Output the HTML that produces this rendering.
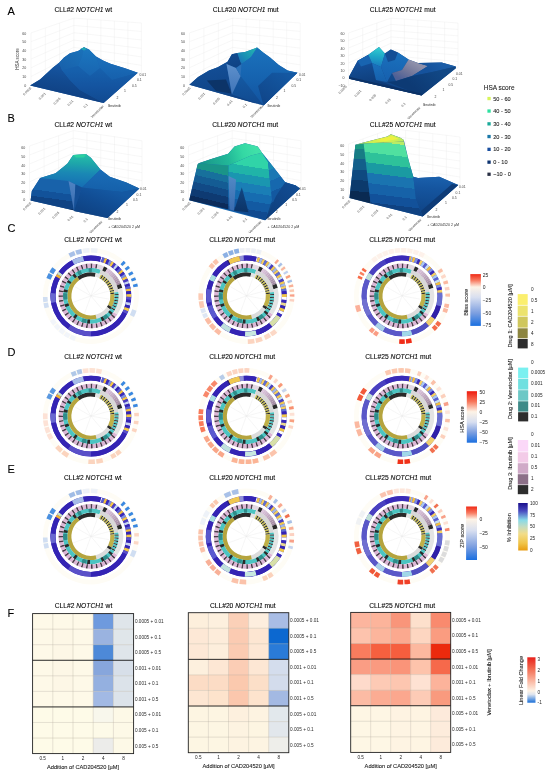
<!DOCTYPE html>
<html><head><meta charset="utf-8"><style>
html,body{margin:0;padding:0;background:#fff;}
svg{display:block;font-family:'Liberation Sans', sans-serif;will-change:transform;}
</style></head><body>
<svg width="550" height="773" viewBox="0 0 550 773">
<rect width="550" height="773" fill="#fff"/>
<text x="7.60" y="15.30" font-size="11" text-anchor="start" fill="#000" stroke="#000" stroke-width="0.09">A</text>
<text x="7.60" y="122.10" font-size="11" text-anchor="start" fill="#000" stroke="#000" stroke-width="0.09">B</text>
<text x="7.60" y="231.70" font-size="11" text-anchor="start" fill="#000" stroke="#000" stroke-width="0.09">C</text>
<text x="7.60" y="355.60" font-size="11" text-anchor="start" fill="#000" stroke="#000" stroke-width="0.09">D</text>
<text x="7.60" y="472.50" font-size="11" text-anchor="start" fill="#000" stroke="#000" stroke-width="0.09">E</text>
<text x="7.60" y="616.80" font-size="11" text-anchor="start" fill="#000" stroke="#000" stroke-width="0.09">F</text>
<text x="83.20" y="12.20" font-size="6.7" text-anchor="middle" fill="#000" stroke="#000" stroke-width="0.09">CLL#2 <tspan font-style="italic">NOTCH1</tspan> wt</text>
<text x="245.70" y="12.20" font-size="6.7" text-anchor="middle" fill="#000" stroke="#000" stroke-width="0.09">CLL#20 <tspan font-style="italic">NOTCH1</tspan> mut</text>
<text x="402.60" y="12.20" font-size="6.7" text-anchor="middle" fill="#000" stroke="#000" stroke-width="0.09">CLL#25 <tspan font-style="italic">NOTCH1</tspan> mut</text>
<text x="83.20" y="127.30" font-size="6.7" text-anchor="middle" fill="#000" stroke="#000" stroke-width="0.09">CLL#2 <tspan font-style="italic">NOTCH1</tspan> wt</text>
<text x="245.20" y="127.30" font-size="6.7" text-anchor="middle" fill="#000" stroke="#000" stroke-width="0.09">CLL#20 <tspan font-style="italic">NOTCH1</tspan> mut</text>
<text x="402.60" y="127.30" font-size="6.7" text-anchor="middle" fill="#000" stroke="#000" stroke-width="0.09">CLL#25 <tspan font-style="italic">NOTCH1</tspan> mut</text>
<text x="93.00" y="242.00" font-size="6.7" text-anchor="middle" fill="#000" stroke="#000" stroke-width="0.09">CLL#2 <tspan font-style="italic">NOTCH1</tspan> wt</text>
<text x="242.20" y="242.00" font-size="6.7" text-anchor="middle" fill="#000" stroke="#000" stroke-width="0.09">CLL#20 <tspan font-style="italic">NOTCH1</tspan> mut</text>
<text x="402.20" y="242.00" font-size="6.7" text-anchor="middle" fill="#000" stroke="#000" stroke-width="0.09">CLL#25 <tspan font-style="italic">NOTCH1</tspan> mut</text>
<text x="93.10" y="359.40" font-size="6.7" text-anchor="middle" fill="#000" stroke="#000" stroke-width="0.09">CLL#2 <tspan font-style="italic">NOTCH1</tspan> wt</text>
<text x="242.20" y="359.40" font-size="6.7" text-anchor="middle" fill="#000" stroke="#000" stroke-width="0.09">CLL#20 <tspan font-style="italic">NOTCH1</tspan> mut</text>
<text x="398.20" y="359.40" font-size="6.7" text-anchor="middle" fill="#000" stroke="#000" stroke-width="0.09">CLL#25 <tspan font-style="italic">NOTCH1</tspan> mut</text>
<text x="92.80" y="479.60" font-size="6.7" text-anchor="middle" fill="#000" stroke="#000" stroke-width="0.09">CLL#2 <tspan font-style="italic">NOTCH1</tspan> wt</text>
<text x="242.20" y="479.60" font-size="6.7" text-anchor="middle" fill="#000" stroke="#000" stroke-width="0.09">CLL#20 <tspan font-style="italic">NOTCH1</tspan> mut</text>
<text x="398.20" y="479.60" font-size="6.7" text-anchor="middle" fill="#000" stroke="#000" stroke-width="0.09">CLL#25 <tspan font-style="italic">NOTCH1</tspan> mut</text>
<text x="83.50" y="607.70" font-size="6.7" text-anchor="middle" fill="#000" stroke="#000" stroke-width="0.09">CLL#2 <tspan font-style="italic">NOTCH1</tspan> wt</text>
<text x="242.80" y="607.70" font-size="6.7" text-anchor="middle" fill="#000" stroke="#000" stroke-width="0.09">CLL#20 <tspan font-style="italic">NOTCH1</tspan> mut</text>
<text x="402.20" y="607.70" font-size="6.7" text-anchor="middle" fill="#000" stroke="#000" stroke-width="0.09">CLL#25 <tspan font-style="italic">NOTCH1</tspan> mut</text>
<rect x="32.60" y="613.60" width="20.25" height="15.61" fill="#fef9e8"/>
<rect x="52.80" y="613.60" width="20.25" height="15.61" fill="#fef9e8"/>
<rect x="73.00" y="613.60" width="20.25" height="15.61" fill="#fef9e8"/>
<rect x="93.20" y="613.60" width="20.25" height="15.61" fill="#6e9ade"/>
<rect x="113.40" y="613.60" width="20.25" height="15.61" fill="#dfe5ea"/>
<rect x="32.60" y="629.16" width="20.25" height="15.61" fill="#fef9e8"/>
<rect x="52.80" y="629.16" width="20.25" height="15.61" fill="#fdf7e6"/>
<rect x="73.00" y="629.16" width="20.25" height="15.61" fill="#fef9e8"/>
<rect x="93.20" y="629.16" width="20.25" height="15.61" fill="#9ab3e0"/>
<rect x="113.40" y="629.16" width="20.25" height="15.61" fill="#e0e6ea"/>
<rect x="32.60" y="644.71" width="20.25" height="15.61" fill="#fef9e8"/>
<rect x="52.80" y="644.71" width="20.25" height="15.61" fill="#fdf7e6"/>
<rect x="73.00" y="644.71" width="20.25" height="15.61" fill="#fef9e8"/>
<rect x="93.20" y="644.71" width="20.25" height="15.61" fill="#4d89d8"/>
<rect x="113.40" y="644.71" width="20.25" height="15.61" fill="#dfe5ea"/>
<rect x="32.60" y="660.27" width="20.25" height="15.61" fill="#fef9e8"/>
<rect x="52.80" y="660.27" width="20.25" height="15.61" fill="#fdf7e6"/>
<rect x="73.00" y="660.27" width="20.25" height="15.61" fill="#fef9e8"/>
<rect x="93.20" y="660.27" width="20.25" height="15.61" fill="#87a6dc"/>
<rect x="113.40" y="660.27" width="20.25" height="15.61" fill="#d7dfe9"/>
<rect x="32.60" y="675.82" width="20.25" height="15.61" fill="#fef9e8"/>
<rect x="52.80" y="675.82" width="20.25" height="15.61" fill="#fdf7e6"/>
<rect x="73.00" y="675.82" width="20.25" height="15.61" fill="#fef9e8"/>
<rect x="93.20" y="675.82" width="20.25" height="15.61" fill="#94b0e0"/>
<rect x="113.40" y="675.82" width="20.25" height="15.61" fill="#dce3ea"/>
<rect x="32.60" y="691.38" width="20.25" height="15.61" fill="#fef9e8"/>
<rect x="52.80" y="691.38" width="20.25" height="15.61" fill="#fef9e8"/>
<rect x="73.00" y="691.38" width="20.25" height="15.61" fill="#fef9e8"/>
<rect x="93.20" y="691.38" width="20.25" height="15.61" fill="#a2b9e4"/>
<rect x="113.40" y="691.38" width="20.25" height="15.61" fill="#dce3ea"/>
<rect x="32.60" y="706.93" width="20.25" height="15.61" fill="#fefbe8"/>
<rect x="52.80" y="706.93" width="20.25" height="15.61" fill="#fefbe8"/>
<rect x="73.00" y="706.93" width="20.25" height="15.61" fill="#fefbe8"/>
<rect x="93.20" y="706.93" width="20.25" height="15.61" fill="#f8f7ec"/>
<rect x="113.40" y="706.93" width="20.25" height="15.61" fill="#fdf9e7"/>
<rect x="32.60" y="722.49" width="20.25" height="15.61" fill="#fefbe8"/>
<rect x="52.80" y="722.49" width="20.25" height="15.61" fill="#fefbe8"/>
<rect x="73.00" y="722.49" width="20.25" height="15.61" fill="#fefbe8"/>
<rect x="93.20" y="722.49" width="20.25" height="15.61" fill="#fdfae8"/>
<rect x="113.40" y="722.49" width="20.25" height="15.61" fill="#fdf9e7"/>
<rect x="32.60" y="738.04" width="20.25" height="15.61" fill="#fefbe8"/>
<rect x="52.80" y="738.04" width="20.25" height="15.61" fill="#fefbe8"/>
<rect x="73.00" y="738.04" width="20.25" height="15.61" fill="#fefbe8"/>
<rect x="93.20" y="738.04" width="20.25" height="15.61" fill="#ececea"/>
<rect x="113.40" y="738.04" width="20.25" height="15.61" fill="#fdf9e7"/>
<line x1="52.80" y1="613.60" x2="52.80" y2="753.60" stroke="#b8ae9c" stroke-width="0.35"/>
<line x1="73.00" y1="613.60" x2="73.00" y2="753.60" stroke="#b8ae9c" stroke-width="0.35"/>
<line x1="93.20" y1="613.60" x2="93.20" y2="753.60" stroke="#b8ae9c" stroke-width="0.35"/>
<line x1="113.40" y1="613.60" x2="113.40" y2="753.60" stroke="#b8ae9c" stroke-width="0.35"/>
<line x1="32.60" y1="629.16" x2="133.60" y2="629.16" stroke="#b8ae9c" stroke-width="0.35"/>
<line x1="32.60" y1="644.71" x2="133.60" y2="644.71" stroke="#b8ae9c" stroke-width="0.35"/>
<line x1="32.60" y1="675.82" x2="133.60" y2="675.82" stroke="#b8ae9c" stroke-width="0.35"/>
<line x1="32.60" y1="691.38" x2="133.60" y2="691.38" stroke="#b8ae9c" stroke-width="0.35"/>
<line x1="32.60" y1="722.49" x2="133.60" y2="722.49" stroke="#b8ae9c" stroke-width="0.35"/>
<line x1="32.60" y1="738.04" x2="133.60" y2="738.04" stroke="#b8ae9c" stroke-width="0.35"/>
<line x1="32.60" y1="660.27" x2="133.60" y2="660.27" stroke="#111" stroke-width="0.9"/>
<line x1="32.60" y1="706.93" x2="133.60" y2="706.93" stroke="#111" stroke-width="0.9"/>
<rect x="32.60" y="613.60" width="101.00" height="140.00" fill="none" stroke="#222" stroke-width="0.9"/>
<text x="134.90" y="623.08" font-size="4.7" text-anchor="start" fill="#2a2a2a">0.0005 + 0.01</text>
<text x="134.90" y="638.63" font-size="4.7" text-anchor="start" fill="#2a2a2a">0.0005 + 0.1</text>
<text x="134.90" y="654.19" font-size="4.7" text-anchor="start" fill="#2a2a2a">0.0005 + 0.5</text>
<text x="134.90" y="669.74" font-size="4.7" text-anchor="start" fill="#2a2a2a">0.001 + 0.01</text>
<text x="134.90" y="685.30" font-size="4.7" text-anchor="start" fill="#2a2a2a">0.001 + 0.1</text>
<text x="134.90" y="700.86" font-size="4.7" text-anchor="start" fill="#2a2a2a">0.001 + 0.5</text>
<text x="134.90" y="716.41" font-size="4.7" text-anchor="start" fill="#2a2a2a">0.005 + 0.01</text>
<text x="134.90" y="731.97" font-size="4.7" text-anchor="start" fill="#2a2a2a">0.005 + 0.1</text>
<text x="134.90" y="747.52" font-size="4.7" text-anchor="start" fill="#2a2a2a">0.005 + 0.5</text>
<text x="42.70" y="759.80" font-size="4.65" text-anchor="middle" fill="#222">0.5</text>
<text x="62.90" y="759.80" font-size="4.65" text-anchor="middle" fill="#222">1</text>
<text x="83.10" y="759.80" font-size="4.65" text-anchor="middle" fill="#222">2</text>
<text x="103.30" y="759.80" font-size="4.65" text-anchor="middle" fill="#222">4</text>
<text x="123.50" y="759.80" font-size="4.65" text-anchor="middle" fill="#222">8</text>
<text x="83.10" y="768.80" font-size="5.7" text-anchor="middle" fill="#222" stroke="#222" stroke-width="0.09">Addition of CAD204520 [µM]</text>
<rect x="188.30" y="612.70" width="20.15" height="15.61" fill="#fdefdc"/>
<rect x="208.40" y="612.70" width="20.15" height="15.61" fill="#fdf0de"/>
<rect x="228.50" y="612.70" width="20.15" height="15.61" fill="#fbd0b8"/>
<rect x="248.60" y="612.70" width="20.15" height="15.61" fill="#fdeede"/>
<rect x="268.70" y="612.70" width="20.15" height="15.61" fill="#a9bde5"/>
<rect x="188.30" y="628.26" width="20.15" height="15.61" fill="#fde8d6"/>
<rect x="208.40" y="628.26" width="20.15" height="15.61" fill="#fdecda"/>
<rect x="228.50" y="628.26" width="20.15" height="15.61" fill="#fbcbb2"/>
<rect x="248.60" y="628.26" width="20.15" height="15.61" fill="#fde6d2"/>
<rect x="268.70" y="628.26" width="20.15" height="15.61" fill="#0c68d0"/>
<rect x="188.30" y="643.81" width="20.15" height="15.61" fill="#fde8d6"/>
<rect x="208.40" y="643.81" width="20.15" height="15.61" fill="#fdeedc"/>
<rect x="228.50" y="643.81" width="20.15" height="15.61" fill="#fbcbb2"/>
<rect x="248.60" y="643.81" width="20.15" height="15.61" fill="#fde7d4"/>
<rect x="268.70" y="643.81" width="20.15" height="15.61" fill="#2a7bd8"/>
<rect x="188.30" y="659.37" width="20.15" height="15.61" fill="#fdf0de"/>
<rect x="208.40" y="659.37" width="20.15" height="15.61" fill="#fde7d4"/>
<rect x="228.50" y="659.37" width="20.15" height="15.61" fill="#fbcdb5"/>
<rect x="248.60" y="659.37" width="20.15" height="15.61" fill="#fde7d4"/>
<rect x="268.70" y="659.37" width="20.15" height="15.61" fill="#d4dded"/>
<rect x="188.30" y="674.92" width="20.15" height="15.61" fill="#fcdcc5"/>
<rect x="208.40" y="674.92" width="20.15" height="15.61" fill="#fcdcc5"/>
<rect x="228.50" y="674.92" width="20.15" height="15.61" fill="#fbc9ae"/>
<rect x="248.60" y="674.92" width="20.15" height="15.61" fill="#fcdfc8"/>
<rect x="268.70" y="674.92" width="20.15" height="15.61" fill="#d3dcec"/>
<rect x="188.30" y="690.48" width="20.15" height="15.61" fill="#fde6d2"/>
<rect x="208.40" y="690.48" width="20.15" height="15.61" fill="#fde3cc"/>
<rect x="228.50" y="690.48" width="20.15" height="15.61" fill="#fbc7ad"/>
<rect x="248.60" y="690.48" width="20.15" height="15.61" fill="#fde3cd"/>
<rect x="268.70" y="690.48" width="20.15" height="15.61" fill="#a3b9e3"/>
<rect x="188.30" y="706.03" width="20.15" height="15.61" fill="#fdf5e2"/>
<rect x="208.40" y="706.03" width="20.15" height="15.61" fill="#fdf5e2"/>
<rect x="228.50" y="706.03" width="20.15" height="15.61" fill="#fdf0de"/>
<rect x="248.60" y="706.03" width="20.15" height="15.61" fill="#fdf3e1"/>
<rect x="268.70" y="706.03" width="20.15" height="15.61" fill="#e2e8ec"/>
<rect x="188.30" y="721.59" width="20.15" height="15.61" fill="#fdf6e3"/>
<rect x="208.40" y="721.59" width="20.15" height="15.61" fill="#fdf6e3"/>
<rect x="228.50" y="721.59" width="20.15" height="15.61" fill="#fdf3e1"/>
<rect x="248.60" y="721.59" width="20.15" height="15.61" fill="#fdf5e2"/>
<rect x="268.70" y="721.59" width="20.15" height="15.61" fill="#e2e7ec"/>
<rect x="188.30" y="737.14" width="20.15" height="15.61" fill="#fdf6e3"/>
<rect x="208.40" y="737.14" width="20.15" height="15.61" fill="#fdf6e3"/>
<rect x="228.50" y="737.14" width="20.15" height="15.61" fill="#fdf3e1"/>
<rect x="248.60" y="737.14" width="20.15" height="15.61" fill="#fdf4e2"/>
<rect x="268.70" y="737.14" width="20.15" height="15.61" fill="#eeeeea"/>
<line x1="208.40" y1="612.70" x2="208.40" y2="752.70" stroke="#b8ae9c" stroke-width="0.35"/>
<line x1="228.50" y1="612.70" x2="228.50" y2="752.70" stroke="#b8ae9c" stroke-width="0.35"/>
<line x1="248.60" y1="612.70" x2="248.60" y2="752.70" stroke="#b8ae9c" stroke-width="0.35"/>
<line x1="268.70" y1="612.70" x2="268.70" y2="752.70" stroke="#b8ae9c" stroke-width="0.35"/>
<line x1="188.30" y1="628.26" x2="288.80" y2="628.26" stroke="#b8ae9c" stroke-width="0.35"/>
<line x1="188.30" y1="643.81" x2="288.80" y2="643.81" stroke="#b8ae9c" stroke-width="0.35"/>
<line x1="188.30" y1="674.92" x2="288.80" y2="674.92" stroke="#b8ae9c" stroke-width="0.35"/>
<line x1="188.30" y1="690.48" x2="288.80" y2="690.48" stroke="#b8ae9c" stroke-width="0.35"/>
<line x1="188.30" y1="721.59" x2="288.80" y2="721.59" stroke="#b8ae9c" stroke-width="0.35"/>
<line x1="188.30" y1="737.14" x2="288.80" y2="737.14" stroke="#b8ae9c" stroke-width="0.35"/>
<line x1="188.30" y1="659.37" x2="288.80" y2="659.37" stroke="#111" stroke-width="0.9"/>
<line x1="188.30" y1="706.03" x2="288.80" y2="706.03" stroke="#111" stroke-width="0.9"/>
<rect x="188.30" y="612.70" width="100.50" height="140.00" fill="none" stroke="#222" stroke-width="0.9"/>
<text x="290.10" y="622.18" font-size="4.7" text-anchor="start" fill="#2a2a2a">0.0005 + 0.01</text>
<text x="290.10" y="637.73" font-size="4.7" text-anchor="start" fill="#2a2a2a">0.0005 + 0.1</text>
<text x="290.10" y="653.29" font-size="4.7" text-anchor="start" fill="#2a2a2a">0.0005 + 0.5</text>
<text x="290.10" y="668.84" font-size="4.7" text-anchor="start" fill="#2a2a2a">0.001 + 0.01</text>
<text x="290.10" y="684.40" font-size="4.7" text-anchor="start" fill="#2a2a2a">0.001 + 0.1</text>
<text x="290.10" y="699.96" font-size="4.7" text-anchor="start" fill="#2a2a2a">0.001 + 0.5</text>
<text x="290.10" y="715.51" font-size="4.7" text-anchor="start" fill="#2a2a2a">0.005 + 0.01</text>
<text x="290.10" y="731.07" font-size="4.7" text-anchor="start" fill="#2a2a2a">0.005 + 0.1</text>
<text x="290.10" y="746.62" font-size="4.7" text-anchor="start" fill="#2a2a2a">0.005 + 0.5</text>
<text x="198.35" y="758.90" font-size="4.65" text-anchor="middle" fill="#222">0.5</text>
<text x="218.45" y="758.90" font-size="4.65" text-anchor="middle" fill="#222">1</text>
<text x="238.55" y="758.90" font-size="4.65" text-anchor="middle" fill="#222">2</text>
<text x="258.65" y="758.90" font-size="4.65" text-anchor="middle" fill="#222">4</text>
<text x="278.75" y="758.90" font-size="4.65" text-anchor="middle" fill="#222">8</text>
<text x="238.55" y="767.90" font-size="5.7" text-anchor="middle" fill="#222" stroke="#222" stroke-width="0.09">Addition of CAD204520 [µM]</text>
<rect x="350.70" y="612.40" width="20.05" height="15.61" fill="#fcb59e"/>
<rect x="370.70" y="612.40" width="20.05" height="15.61" fill="#fcb49b"/>
<rect x="390.70" y="612.40" width="20.05" height="15.61" fill="#f9957a"/>
<rect x="410.70" y="612.40" width="20.05" height="15.61" fill="#fde0cc"/>
<rect x="430.70" y="612.40" width="20.05" height="15.61" fill="#f98a6e"/>
<rect x="350.70" y="627.96" width="20.05" height="15.61" fill="#fdc3ad"/>
<rect x="370.70" y="627.96" width="20.05" height="15.61" fill="#fcb59c"/>
<rect x="390.70" y="627.96" width="20.05" height="15.61" fill="#fba98f"/>
<rect x="410.70" y="627.96" width="20.05" height="15.61" fill="#fdd6c1"/>
<rect x="430.70" y="627.96" width="20.05" height="15.61" fill="#fa9c80"/>
<rect x="350.70" y="643.51" width="20.05" height="15.61" fill="#f97c5e"/>
<rect x="370.70" y="643.51" width="20.05" height="15.61" fill="#f6603f"/>
<rect x="390.70" y="643.51" width="20.05" height="15.61" fill="#f65e3e"/>
<rect x="410.70" y="643.51" width="20.05" height="15.61" fill="#fcb89f"/>
<rect x="430.70" y="643.51" width="20.05" height="15.61" fill="#ec2a0d"/>
<rect x="350.70" y="659.07" width="20.05" height="15.61" fill="#fa9d84"/>
<rect x="370.70" y="659.07" width="20.05" height="15.61" fill="#fa9a80"/>
<rect x="390.70" y="659.07" width="20.05" height="15.61" fill="#fa9479"/>
<rect x="410.70" y="659.07" width="20.05" height="15.61" fill="#fdc3ab"/>
<rect x="430.70" y="659.07" width="20.05" height="15.61" fill="#f6694b"/>
<rect x="350.70" y="674.62" width="20.05" height="15.61" fill="#fedacb"/>
<rect x="370.70" y="674.62" width="20.05" height="15.61" fill="#fdcab5"/>
<rect x="390.70" y="674.62" width="20.05" height="15.61" fill="#fdc6b0"/>
<rect x="410.70" y="674.62" width="20.05" height="15.61" fill="#fee2d3"/>
<rect x="430.70" y="674.62" width="20.05" height="15.61" fill="#fcb39b"/>
<rect x="350.70" y="690.18" width="20.05" height="15.61" fill="#fcbba4"/>
<rect x="370.70" y="690.18" width="20.05" height="15.61" fill="#fbac93"/>
<rect x="390.70" y="690.18" width="20.05" height="15.61" fill="#fba78e"/>
<rect x="410.70" y="690.18" width="20.05" height="15.61" fill="#fdcbb6"/>
<rect x="430.70" y="690.18" width="20.05" height="15.61" fill="#f99a7e"/>
<rect x="350.70" y="705.73" width="20.05" height="15.61" fill="#fef6e4"/>
<rect x="370.70" y="705.73" width="20.05" height="15.61" fill="#fef6e4"/>
<rect x="390.70" y="705.73" width="20.05" height="15.61" fill="#fef3e2"/>
<rect x="410.70" y="705.73" width="20.05" height="15.61" fill="#fef4e2"/>
<rect x="430.70" y="705.73" width="20.05" height="15.61" fill="#fdeadb"/>
<rect x="350.70" y="721.29" width="20.05" height="15.61" fill="#fef7e5"/>
<rect x="370.70" y="721.29" width="20.05" height="15.61" fill="#fef7e5"/>
<rect x="390.70" y="721.29" width="20.05" height="15.61" fill="#fef4e3"/>
<rect x="410.70" y="721.29" width="20.05" height="15.61" fill="#fef5e3"/>
<rect x="430.70" y="721.29" width="20.05" height="15.61" fill="#fdecdc"/>
<rect x="350.70" y="736.84" width="20.05" height="15.61" fill="#fef7e5"/>
<rect x="370.70" y="736.84" width="20.05" height="15.61" fill="#fef7e5"/>
<rect x="390.70" y="736.84" width="20.05" height="15.61" fill="#fef4e3"/>
<rect x="410.70" y="736.84" width="20.05" height="15.61" fill="#fef5e3"/>
<rect x="430.70" y="736.84" width="20.05" height="15.61" fill="#fdebdb"/>
<line x1="370.70" y1="612.40" x2="370.70" y2="752.40" stroke="#b8ae9c" stroke-width="0.35"/>
<line x1="390.70" y1="612.40" x2="390.70" y2="752.40" stroke="#b8ae9c" stroke-width="0.35"/>
<line x1="410.70" y1="612.40" x2="410.70" y2="752.40" stroke="#b8ae9c" stroke-width="0.35"/>
<line x1="430.70" y1="612.40" x2="430.70" y2="752.40" stroke="#b8ae9c" stroke-width="0.35"/>
<line x1="350.70" y1="627.96" x2="450.70" y2="627.96" stroke="#b8ae9c" stroke-width="0.35"/>
<line x1="350.70" y1="643.51" x2="450.70" y2="643.51" stroke="#b8ae9c" stroke-width="0.35"/>
<line x1="350.70" y1="674.62" x2="450.70" y2="674.62" stroke="#b8ae9c" stroke-width="0.35"/>
<line x1="350.70" y1="690.18" x2="450.70" y2="690.18" stroke="#b8ae9c" stroke-width="0.35"/>
<line x1="350.70" y1="721.29" x2="450.70" y2="721.29" stroke="#b8ae9c" stroke-width="0.35"/>
<line x1="350.70" y1="736.84" x2="450.70" y2="736.84" stroke="#b8ae9c" stroke-width="0.35"/>
<line x1="350.70" y1="659.07" x2="450.70" y2="659.07" stroke="#111" stroke-width="0.9"/>
<line x1="350.70" y1="705.73" x2="450.70" y2="705.73" stroke="#111" stroke-width="0.9"/>
<rect x="350.70" y="612.40" width="100.00" height="140.00" fill="none" stroke="#222" stroke-width="0.9"/>
<text x="452.00" y="621.88" font-size="4.7" text-anchor="start" fill="#2a2a2a">0.0005 + 0.01</text>
<text x="452.00" y="637.43" font-size="4.7" text-anchor="start" fill="#2a2a2a">0.0005 + 0.1</text>
<text x="452.00" y="652.99" font-size="4.7" text-anchor="start" fill="#2a2a2a">0.0005 + 0.5</text>
<text x="452.00" y="668.54" font-size="4.7" text-anchor="start" fill="#2a2a2a">0.001 + 0.01</text>
<text x="452.00" y="684.10" font-size="4.7" text-anchor="start" fill="#2a2a2a">0.001 + 0.1</text>
<text x="452.00" y="699.66" font-size="4.7" text-anchor="start" fill="#2a2a2a">0.001 + 0.5</text>
<text x="452.00" y="715.21" font-size="4.7" text-anchor="start" fill="#2a2a2a">0.005 + 0.01</text>
<text x="452.00" y="730.77" font-size="4.7" text-anchor="start" fill="#2a2a2a">0.005 + 0.1</text>
<text x="452.00" y="746.32" font-size="4.7" text-anchor="start" fill="#2a2a2a">0.005 + 0.5</text>
<text x="360.70" y="758.60" font-size="4.65" text-anchor="middle" fill="#222">0.5</text>
<text x="380.70" y="758.60" font-size="4.65" text-anchor="middle" fill="#222">1</text>
<text x="400.70" y="758.60" font-size="4.65" text-anchor="middle" fill="#222">2</text>
<text x="420.70" y="758.60" font-size="4.65" text-anchor="middle" fill="#222">4</text>
<text x="440.70" y="758.60" font-size="4.65" text-anchor="middle" fill="#222">8</text>
<text x="400.70" y="767.60" font-size="5.7" text-anchor="middle" fill="#222" stroke="#222" stroke-width="0.09">Addition of CAD204520 [µM]</text>
<text x="491.30" y="682.50" font-size="5.6" text-anchor="middle" fill="#222" stroke="#222" stroke-width="0.09" transform="rotate(-90 491.3 682.5)">Venetoclax + Ibrutinib [µM]</text>
<defs>
<linearGradient id="lfc" x1="0" y1="0" x2="0" y2="1">
<stop offset="0" stop-color="#e8201a"/><stop offset="0.25" stop-color="#f26a50"/>
<stop offset="0.5" stop-color="#fab09a"/><stop offset="0.74" stop-color="#fdf3e6"/>
<stop offset="0.82" stop-color="#dce3ee"/><stop offset="1" stop-color="#1a6fd8"/>
</linearGradient>
<linearGradient id="bliss" x1="0" y1="0" x2="0" y2="1">
<stop offset="0" stop-color="#f02a16"/><stop offset="0.12" stop-color="#f87a60"/>
<stop offset="0.25" stop-color="#fdf3e6"/><stop offset="0.45" stop-color="#d8dff0"/>
<stop offset="0.75" stop-color="#7d9fe0"/><stop offset="1" stop-color="#1a6fe0"/>
</linearGradient>
<linearGradient id="hsa" x1="0" y1="0" x2="0" y2="1">
<stop offset="0" stop-color="#ee1a0e"/><stop offset="0.2" stop-color="#f7765a"/>
<stop offset="0.4" stop-color="#fdf3e6"/><stop offset="0.6" stop-color="#d8dff0"/>
<stop offset="0.8" stop-color="#7d9fe0"/><stop offset="1" stop-color="#1a6fe0"/>
</linearGradient>
<linearGradient id="zip" x1="0" y1="0" x2="0" y2="1">
<stop offset="0" stop-color="#f02a16"/><stop offset="0.12" stop-color="#f87a60"/>
<stop offset="0.24" stop-color="#fdf3e6"/><stop offset="0.45" stop-color="#d8dff0"/>
<stop offset="0.75" stop-color="#7d9fe0"/><stop offset="1" stop-color="#1a6fe0"/>
</linearGradient>
<linearGradient id="inh" x1="0" y1="0" x2="0" y2="1">
<stop offset="0" stop-color="#1a0f8c"/><stop offset="0.17" stop-color="#4a4cc0"/>
<stop offset="0.36" stop-color="#88dae8"/><stop offset="0.5" stop-color="#c4dcc0"/>
<stop offset="0.65" stop-color="#f2dc88"/><stop offset="0.85" stop-color="#f0c448"/>
<stop offset="1" stop-color="#e89c10"/>
</linearGradient>
</defs>
<rect x="527.30" y="657.30" width="8.20" height="45.40" fill="url(#lfc)"/>
<text x="537.60" y="661.20" font-size="4.65" text-anchor="start" fill="#222">3</text>
<text x="537.60" y="672.10" font-size="4.65" text-anchor="start" fill="#222">2</text>
<text x="537.60" y="682.90" font-size="4.65" text-anchor="start" fill="#222">1</text>
<text x="537.60" y="693.60" font-size="4.65" text-anchor="start" fill="#222">0</text>
<text x="537.60" y="704.10" font-size="4.65" text-anchor="start" fill="#222">-1</text>
<text x="523.20" y="680.50" font-size="5.6" text-anchor="middle" fill="#222" stroke="#222" stroke-width="0.09" transform="rotate(-90 523.2 680.5)">Linear Fold Change</text>
<rect x="470.30" y="274.10" width="10.60" height="51.80" fill="url(#bliss)"/>
<text x="482.70" y="276.70" font-size="5.0" text-anchor="start" fill="#222">25</text>
<text x="482.70" y="289.40" font-size="5.0" text-anchor="start" fill="#222">0</text>
<text x="482.70" y="302.20" font-size="5.0" text-anchor="start" fill="#222">−25</text>
<text x="482.70" y="315.30" font-size="5.0" text-anchor="start" fill="#222">−50</text>
<text x="482.70" y="327.40" font-size="5.0" text-anchor="start" fill="#222">−75</text>
<text x="468.00" y="302.30" font-size="5.6" text-anchor="middle" fill="#222" stroke="#222" stroke-width="0.09" transform="rotate(-90 468.0 302.3)">Bliss score</text>
<rect x="466.80" y="391.20" width="10.20" height="51.50" fill="url(#hsa)"/>
<text x="479.40" y="393.50" font-size="5.0" text-anchor="start" fill="#222">50</text>
<text x="479.40" y="404.00" font-size="5.0" text-anchor="start" fill="#222">25</text>
<text x="479.40" y="414.00" font-size="5.0" text-anchor="start" fill="#222">0</text>
<text x="479.40" y="424.00" font-size="5.0" text-anchor="start" fill="#222">−25</text>
<text x="479.40" y="434.40" font-size="5.0" text-anchor="start" fill="#222">−50</text>
<text x="479.40" y="444.20" font-size="5.0" text-anchor="start" fill="#222">−75</text>
<text x="464.40" y="419.50" font-size="5.6" text-anchor="middle" fill="#222" stroke="#222" stroke-width="0.09" transform="rotate(-90 464.4 419.5)">HSA score</text>
<rect x="466.10" y="506.50" width="10.90" height="53.50" fill="url(#zip)"/>
<text x="479.40" y="521.20" font-size="5.0" text-anchor="start" fill="#222">0</text>
<text x="479.40" y="535.30" font-size="5.0" text-anchor="start" fill="#222">−25</text>
<text x="479.40" y="548.80" font-size="5.0" text-anchor="start" fill="#222">−50</text>
<text x="463.70" y="535.70" font-size="5.6" text-anchor="middle" fill="#222" stroke="#222" stroke-width="0.09" transform="rotate(-90 463.7 535.7)">ZIP score</text>
<rect x="517.70" y="294.10" width="10.00" height="10.80" fill="#fbef6e"/>
<rect x="517.70" y="305.60" width="10.00" height="10.30" fill="#ece36e"/>
<rect x="517.70" y="316.60" width="10.00" height="11.00" fill="#cfc75d"/>
<rect x="517.70" y="328.30" width="10.00" height="10.00" fill="#8c8540"/>
<rect x="517.70" y="339.00" width="10.00" height="9.40" fill="#2d2d2d"/>
<text x="530.90" y="290.70" font-size="4.65" text-anchor="start" fill="#222">0</text>
<text x="530.90" y="301.60" font-size="4.65" text-anchor="start" fill="#222">0.5</text>
<text x="530.90" y="312.60" font-size="4.65" text-anchor="start" fill="#222">1</text>
<text x="530.90" y="324.10" font-size="4.65" text-anchor="start" fill="#222">2</text>
<text x="530.90" y="335.10" font-size="4.65" text-anchor="start" fill="#222">4</text>
<text x="530.90" y="346.10" font-size="4.65" text-anchor="start" fill="#222">8</text>
<text x="511.80" y="316.00" font-size="5.6" text-anchor="middle" fill="#222" stroke="#222" stroke-width="0.09" transform="rotate(-90 511.8 316.0)">Drug 1: CAD204520 [µM]</text>
<rect x="518.10" y="367.60" width="10.10" height="10.60" fill="#7af0f0"/>
<rect x="518.10" y="378.80" width="10.10" height="10.80" fill="#70e0e0"/>
<rect x="518.10" y="390.20" width="10.10" height="10.50" fill="#6cc8c6"/>
<rect x="518.10" y="401.30" width="10.10" height="10.30" fill="#3d8a88"/>
<rect x="518.10" y="412.20" width="10.10" height="9.20" fill="#2d2d2d"/>
<text x="531.00" y="363.50" font-size="4.65" text-anchor="start" fill="#222">0</text>
<text x="531.00" y="374.40" font-size="4.65" text-anchor="start" fill="#222">0.0005</text>
<text x="531.00" y="385.20" font-size="4.65" text-anchor="start" fill="#222">0.001</text>
<text x="531.00" y="396.50" font-size="4.65" text-anchor="start" fill="#222">0.005</text>
<text x="531.00" y="407.00" font-size="4.65" text-anchor="start" fill="#222">0.01</text>
<text x="531.00" y="418.00" font-size="4.65" text-anchor="start" fill="#222">0.1</text>
<text x="512.00" y="389.00" font-size="5.6" text-anchor="middle" fill="#222" stroke="#222" stroke-width="0.09" transform="rotate(-90 512.0 389.0)">Drug 2: Venetoclax [µM]</text>
<rect x="517.80" y="440.00" width="10.40" height="11.60" fill="#fbd8f8"/>
<rect x="517.80" y="452.20" width="10.40" height="10.40" fill="#f3cbe8"/>
<rect x="517.80" y="463.20" width="10.40" height="10.40" fill="#d0aac8"/>
<rect x="517.80" y="474.20" width="10.40" height="10.30" fill="#8c7088"/>
<rect x="517.80" y="485.10" width="10.40" height="9.10" fill="#2d2d2d"/>
<text x="531.00" y="436.40" font-size="4.65" text-anchor="start" fill="#222">0</text>
<text x="531.00" y="447.30" font-size="4.65" text-anchor="start" fill="#222">0.01</text>
<text x="531.00" y="458.20" font-size="4.65" text-anchor="start" fill="#222">0.1</text>
<text x="531.00" y="469.30" font-size="4.65" text-anchor="start" fill="#222">0.5</text>
<text x="531.00" y="479.90" font-size="4.65" text-anchor="start" fill="#222">1</text>
<text x="531.00" y="491.10" font-size="4.65" text-anchor="start" fill="#222">2</text>
<text x="512.00" y="463.50" font-size="5.6" text-anchor="middle" fill="#222" stroke="#222" stroke-width="0.09" transform="rotate(-90 512.0 463.5)">Drug 3: Ibrutinib [µM]</text>
<rect x="518.20" y="503.00" width="9.50" height="47.50" fill="url(#inh)"/>
<text x="530.00" y="505.20" font-size="4.65" text-anchor="start" fill="#222">100</text>
<text x="530.00" y="516.60" font-size="4.65" text-anchor="start" fill="#222">75</text>
<text x="530.00" y="528.40" font-size="4.65" text-anchor="start" fill="#222">50</text>
<text x="530.00" y="540.10" font-size="4.65" text-anchor="start" fill="#222">25</text>
<text x="530.00" y="551.60" font-size="4.65" text-anchor="start" fill="#222">0</text>
<text x="511.20" y="527.70" font-size="5.6" text-anchor="middle" fill="#222" stroke="#222" stroke-width="0.09" transform="rotate(-90 511.2 527.7)">% Inhibition</text>
<text x="483.80" y="90.40" font-size="6.5" text-anchor="start" fill="#222" stroke="#222" stroke-width="0.09">HSA score</text>
<rect x="487.40" y="96.90" width="3.30" height="3.30" fill="#d8f55a"/>
<text x="493.20" y="100.50" font-size="5.6" text-anchor="start" fill="#222" stroke="#222" stroke-width="0.09">50 - 60</text>
<rect x="487.40" y="109.40" width="3.30" height="3.30" fill="#2de0a0"/>
<text x="493.20" y="113.00" font-size="5.6" text-anchor="start" fill="#222" stroke="#222" stroke-width="0.09">40 - 50</text>
<rect x="487.40" y="122.20" width="3.30" height="3.30" fill="#1aaa9a"/>
<text x="493.20" y="125.80" font-size="5.6" text-anchor="start" fill="#222" stroke="#222" stroke-width="0.09">30 - 40</text>
<rect x="487.40" y="134.90" width="3.30" height="3.30" fill="#1a78a8"/>
<text x="493.20" y="138.50" font-size="5.6" text-anchor="start" fill="#222" stroke="#222" stroke-width="0.09">20 - 30</text>
<rect x="487.40" y="147.70" width="3.30" height="3.30" fill="#1a4fa0"/>
<text x="493.20" y="151.30" font-size="5.6" text-anchor="start" fill="#222" stroke="#222" stroke-width="0.09">10 - 20</text>
<rect x="487.40" y="160.50" width="3.30" height="3.30" fill="#0d3370"/>
<text x="493.20" y="164.10" font-size="5.6" text-anchor="start" fill="#222" stroke="#222" stroke-width="0.09">0 - 10</text>
<rect x="487.40" y="172.60" width="3.30" height="3.30" fill="#2a3045"/>
<text x="493.20" y="176.20" font-size="5.6" text-anchor="start" fill="#222" stroke="#222" stroke-width="0.09">−10 - 0</text>
<defs><g id="inr"><path d="M-13.93,-19.17 A23.7,23.7 0 0 1 4.93,-23.18 L4.05,-19.07 A19.5,19.5 0 0 0 -11.46,-15.78 Z" fill="#2a2a2a"/>
<path d="M4.93,-23.18 A23.7,23.7 0 0 1 10.02,-21.48 L8.24,-17.67 A19.5,19.5 0 0 0 4.05,-19.07 Z" fill="#e4e4e4"/>
<path d="M10.02,-21.48 A23.7,23.7 0 0 1 11.37,-20.79 L9.35,-17.11 A19.5,19.5 0 0 0 8.24,-17.67 Z" fill="#c8be4e"/>
<path d="M11.37,-20.79 A23.7,23.7 0 0 1 12.44,-20.17 L10.24,-16.60 A19.5,19.5 0 0 0 9.35,-17.11 Z" fill="#2a2a2a"/>
<path d="M12.44,-20.17 A23.7,23.7 0 0 1 13.71,-19.33 L11.28,-15.91 A19.5,19.5 0 0 0 10.24,-16.60 Z" fill="#c8be4e"/>
<path d="M13.71,-19.33 A23.7,23.7 0 0 1 14.70,-18.59 L12.09,-15.30 A19.5,19.5 0 0 0 11.28,-15.91 Z" fill="#2a2a2a"/>
<path d="M14.70,-18.59 A23.7,23.7 0 0 1 15.86,-17.61 L13.05,-14.49 A19.5,19.5 0 0 0 12.09,-15.30 Z" fill="#c8be4e"/>
<path d="M15.86,-17.61 A23.7,23.7 0 0 1 16.76,-16.76 L13.79,-13.79 A19.5,19.5 0 0 0 13.05,-14.49 Z" fill="#2a2a2a"/>
<path d="M16.76,-16.76 A23.7,23.7 0 0 1 17.80,-15.65 L14.64,-12.88 A19.5,19.5 0 0 0 13.79,-13.79 Z" fill="#c8be4e"/>
<path d="M17.80,-15.65 A23.7,23.7 0 0 1 18.59,-14.70 L15.30,-12.09 A19.5,19.5 0 0 0 14.64,-12.88 Z" fill="#2a2a2a"/>
<path d="M18.59,-14.70 A23.7,23.7 0 0 1 19.49,-13.48 L16.04,-11.09 A19.5,19.5 0 0 0 15.30,-12.09 Z" fill="#c8be4e"/>
<path d="M19.49,-13.48 A23.7,23.7 0 0 1 20.17,-12.44 L16.60,-10.24 A19.5,19.5 0 0 0 16.04,-11.09 Z" fill="#2a2a2a"/>
<path d="M20.17,-12.44 A23.7,23.7 0 0 1 20.93,-11.13 L17.22,-9.15 A19.5,19.5 0 0 0 16.60,-10.24 Z" fill="#c8be4e"/>
<path d="M20.93,-11.13 A23.7,23.7 0 0 1 21.48,-10.02 L17.67,-8.24 A19.5,19.5 0 0 0 17.22,-9.15 Z" fill="#2a2a2a"/>
<path d="M21.48,-10.02 A23.7,23.7 0 0 1 22.08,-8.62 L18.16,-7.09 A19.5,19.5 0 0 0 17.67,-8.24 Z" fill="#c8be4e"/>
<path d="M22.08,-8.62 A23.7,23.7 0 0 1 22.50,-7.45 L18.51,-6.13 A19.5,19.5 0 0 0 18.16,-7.09 Z" fill="#2a2a2a"/>
<path d="M22.50,-7.45 A23.7,23.7 0 0 1 22.93,-6.00 L18.86,-4.94 A19.5,19.5 0 0 0 18.51,-6.13 Z" fill="#c8be4e"/>
<path d="M22.93,-6.00 A23.7,23.7 0 0 1 23.21,-4.79 L19.10,-3.94 A19.5,19.5 0 0 0 18.86,-4.94 Z" fill="#2a2a2a"/>
<path d="M23.21,-4.79 A23.7,23.7 0 0 1 23.47,-3.30 L19.31,-2.71 A19.5,19.5 0 0 0 19.10,-3.94 Z" fill="#c8be4e"/>
<path d="M23.47,-3.30 A23.7,23.7 0 0 1 23.61,-2.07 L19.43,-1.70 A19.5,19.5 0 0 0 19.31,-2.71 Z" fill="#2a2a2a"/>
<path d="M23.61,-2.07 A23.7,23.7 0 0 1 20.93,11.13 L17.22,9.15 A19.5,19.5 0 0 0 19.43,-1.70 Z" fill="#c0b048"/>
<path d="M20.93,11.13 A23.7,23.7 0 0 1 19.41,13.59 L15.97,11.18 A19.5,19.5 0 0 0 17.22,9.15 Z" fill="#2a2a2a"/>
<path d="M19.41,13.59 A23.7,23.7 0 0 1 5.73,23.00 L4.72,18.92 A19.5,19.5 0 0 0 15.97,11.18 Z" fill="#dcdcdc"/>
<path d="M5.73,23.00 A23.7,23.7 0 0 1 -13.93,-19.17 L-11.46,-15.78 A19.5,19.5 0 0 0 4.72,18.92 Z" fill="#b5a43e"/>
<path d="M-16.40,-22.57 A27.9,27.9 0 0 1 10.00,-26.05 L8.49,-22.13 A23.7,23.7 0 0 0 -13.93,-19.17 Z" fill="#4cc4c2"/>
<path d="M10.00,-26.05 A27.9,27.9 0 0 1 27.63,-3.88 L23.47,-3.30 A23.7,23.7 0 0 0 8.49,-22.13 Z" fill="#d8d8d8"/>
<path d="M27.63,-3.88 A27.9,27.9 0 0 1 27.83,-1.95 L23.64,-1.65 A23.7,23.7 0 0 0 23.47,-3.30 Z" fill="#4cc4c2"/>
<path d="M27.83,-1.95 A27.9,27.9 0 0 1 27.89,-0.65 L23.69,-0.55 A23.7,23.7 0 0 0 23.64,-1.65 Z" fill="#2a2a2a"/>
<path d="M27.89,-0.65 A27.9,27.9 0 0 1 27.87,1.30 L23.67,1.10 A23.7,23.7 0 0 0 23.69,-0.55 Z" fill="#4cc4c2"/>
<path d="M27.87,1.30 A27.9,27.9 0 0 1 27.78,2.59 L23.60,2.20 A23.7,23.7 0 0 0 23.67,1.10 Z" fill="#2a2a2a"/>
<path d="M27.78,2.59 A27.9,27.9 0 0 1 27.53,4.52 L23.39,3.84 A23.7,23.7 0 0 0 23.60,2.20 Z" fill="#4cc4c2"/>
<path d="M27.53,4.52 A27.9,27.9 0 0 1 27.29,5.80 L23.18,4.93 A23.7,23.7 0 0 0 23.39,3.84 Z" fill="#2a2a2a"/>
<path d="M27.29,5.80 A27.9,27.9 0 0 1 26.82,7.69 L22.78,6.53 A23.7,23.7 0 0 0 23.18,4.93 Z" fill="#4cc4c2"/>
<path d="M26.82,7.69 A27.9,27.9 0 0 1 26.43,8.93 L22.45,7.59 A23.7,23.7 0 0 0 22.78,6.53 Z" fill="#2a2a2a"/>
<path d="M26.43,8.93 A27.9,27.9 0 0 1 25.75,10.75 L21.87,9.13 A23.7,23.7 0 0 0 22.45,7.59 Z" fill="#4cc4c2"/>
<path d="M25.75,10.75 A27.9,27.9 0 0 1 25.22,11.94 L21.42,10.14 A23.7,23.7 0 0 0 21.87,9.13 Z" fill="#2a2a2a"/>
<path d="M25.22,11.94 A27.9,27.9 0 0 1 24.32,13.67 L20.66,11.61 A23.7,23.7 0 0 0 21.42,10.14 Z" fill="#4cc4c2"/>
<path d="M24.32,13.67 A27.9,27.9 0 0 1 23.66,14.78 L20.10,12.56 A23.7,23.7 0 0 0 20.66,11.61 Z" fill="#2a2a2a"/>
<path d="M23.66,14.78 A27.9,27.9 0 1 1 -16.40,-22.57 L-13.93,-19.17 A23.7,23.7 0 1 0 20.10,12.56 Z" fill="#4cc4c2"/>
<path d="M-18.67,-20.73 A27.9,27.9 0 0 1 -16.40,-22.57 L-13.93,-19.17 A23.7,23.7 0 0 0 -15.86,-17.61 Z" fill="#2a2a2a"/>
<path d="M21.99,17.18 A27.9,27.9 0 0 1 20.40,19.03 L17.33,16.16 A23.7,23.7 0 0 0 18.68,14.59 Z" fill="#2a2a2a"/>
<path d="M13.95,24.16 A27.9,27.9 0 0 1 11.35,25.49 L9.64,21.65 A23.7,23.7 0 0 0 11.85,20.52 Z" fill="#2a2a2a"/>
<path d="M-0.97,27.88 A27.9,27.9 0 0 1 -3.88,27.63 L-3.30,23.47 A23.7,23.7 0 0 0 -0.83,23.69 Z" fill="#2a2a2a"/>
<path d="M-15.60,23.13 A27.9,27.9 0 0 1 -17.93,21.37 L-15.23,18.16 A23.7,23.7 0 0 0 -13.25,19.65 Z" fill="#2a2a2a"/>
<path d="M-25.49,11.35 A27.9,27.9 0 0 1 -26.53,8.62 L-22.54,7.32 A23.7,23.7 0 0 0 -21.65,9.64 Z" fill="#2a2a2a"/>
<path d="M-27.63,-3.88 A27.9,27.9 0 0 1 -27.07,-6.75 L-23.00,-5.73 A23.7,23.7 0 0 0 -23.47,-3.30 Z" fill="#2a2a2a"/>
<path d="M-24.16,-13.95 A27.9,27.9 0 0 1 -22.85,-16.00 L-19.41,-13.59 A23.7,23.7 0 0 0 -20.52,-11.85 Z" fill="#2a2a2a"/>
<path d="M17.93,21.37 A27.9,27.9 0 0 1 13.95,24.16 L11.85,20.52 A23.7,23.7 0 0 0 15.23,18.16 Z" fill="#2f8c8a"/>
<path d="M-4.84,27.48 A27.9,27.9 0 0 1 -9.54,26.22 L-8.11,22.27 A23.7,23.7 0 0 0 -4.12,23.34 Z" fill="#2f8c8a"/>
<path d="M-27.63,3.88 A27.9,27.9 0 0 1 -27.75,-2.92 L-23.57,-2.48 A23.7,23.7 0 0 0 -23.47,3.30 Z" fill="#2f8c8a"/>
<path d="M-13.95,-24.16 A27.9,27.9 0 0 1 -10.45,-25.87 L-8.88,-21.97 A23.7,23.7 0 0 0 -11.85,-20.52 Z" fill="#2f8c8a"/>
<path d="M-2.43,-27.79 A27.9,27.9 0 0 1 0.97,-27.88 L0.83,-23.69 A23.7,23.7 0 0 0 -2.07,-23.61 Z" fill="#2f8c8a"/>
<path d="M26.46,18.53 A32.3,32.3 0 0 1 24.36,21.21 L21.04,18.32 A27.9,27.9 0 0 0 22.85,16.00 Z" fill="#dcb6d6"/>
<path d="M24.36,21.21 A32.3,32.3 0 0 1 23.18,22.50 L20.02,19.43 A27.9,27.9 0 0 0 21.04,18.32 Z" fill="#4a3a48"/>
<path d="M23.18,22.50 A32.3,32.3 0 0 1 20.68,24.81 L17.86,21.43 A27.9,27.9 0 0 0 20.02,19.43 Z" fill="#dcb6d6"/>
<path d="M20.68,24.81 A32.3,32.3 0 0 1 19.30,25.90 L16.68,22.37 A27.9,27.9 0 0 0 17.86,21.43 Z" fill="#4a3a48"/>
<path d="M19.30,25.90 A32.3,32.3 0 0 1 16.47,27.78 L14.23,24.00 A27.9,27.9 0 0 0 16.68,22.37 Z" fill="#dcb6d6"/>
<path d="M16.47,27.78 A32.3,32.3 0 0 1 14.94,28.64 L12.91,24.74 A27.9,27.9 0 0 0 14.23,24.00 Z" fill="#4a3a48"/>
<path d="M14.94,28.64 A32.3,32.3 0 0 1 11.85,30.05 L10.23,25.96 A27.9,27.9 0 0 0 12.91,24.74 Z" fill="#dcb6d6"/>
<path d="M11.85,30.05 A32.3,32.3 0 0 1 10.20,30.65 L8.81,26.47 A27.9,27.9 0 0 0 10.23,25.96 Z" fill="#4a3a48"/>
<path d="M10.20,30.65 A32.3,32.3 0 0 1 6.92,31.55 L5.98,27.25 A27.9,27.9 0 0 0 8.81,26.47 Z" fill="#dcb6d6"/>
<path d="M6.92,31.55 A32.3,32.3 0 0 1 5.20,31.88 L4.49,27.54 A27.9,27.9 0 0 0 5.98,27.25 Z" fill="#4a3a48"/>
<path d="M5.20,31.88 A32.3,32.3 0 0 1 1.82,32.25 L1.57,27.86 A27.9,27.9 0 0 0 4.49,27.54 Z" fill="#dcb6d6"/>
<path d="M1.82,32.25 A32.3,32.3 0 0 1 0.06,32.30 L0.05,27.90 A27.9,27.9 0 0 0 1.57,27.86 Z" fill="#4a3a48"/>
<path d="M0.06,32.30 A32.3,32.3 0 0 1 -3.34,32.13 L-2.88,27.75 A27.9,27.9 0 0 0 0.05,27.90 Z" fill="#dcb6d6"/>
<path d="M-3.34,32.13 A32.3,32.3 0 0 1 -5.07,31.90 L-4.38,27.55 A27.9,27.9 0 0 0 -2.88,27.75 Z" fill="#4a3a48"/>
<path d="M-5.07,31.90 A32.3,32.3 0 0 1 -8.40,31.19 L-7.26,26.94 A27.9,27.9 0 0 0 -4.38,27.55 Z" fill="#dcb6d6"/>
<path d="M-8.40,31.19 A32.3,32.3 0 0 1 -10.08,30.69 L-8.71,26.51 A27.9,27.9 0 0 0 -7.26,26.94 Z" fill="#4a3a48"/>
<path d="M-10.08,30.69 A32.3,32.3 0 0 1 -13.25,29.46 L-11.45,25.44 A27.9,27.9 0 0 0 -8.71,26.51 Z" fill="#dcb6d6"/>
<path d="M-13.25,29.46 A32.3,32.3 0 0 1 -14.83,28.69 L-12.81,24.78 A27.9,27.9 0 0 0 -11.45,25.44 Z" fill="#4a3a48"/>
<path d="M-14.83,28.69 A32.3,32.3 0 0 1 -17.77,26.97 L-15.35,23.30 A27.9,27.9 0 0 0 -12.81,24.78 Z" fill="#dcb6d6"/>
<path d="M-17.77,26.97 A32.3,32.3 0 0 1 -19.20,25.97 L-16.59,22.43 A27.9,27.9 0 0 0 -15.35,23.30 Z" fill="#4a3a48"/>
<path d="M-19.20,25.97 A32.3,32.3 0 0 1 -21.83,23.81 L-18.86,20.56 A27.9,27.9 0 0 0 -16.59,22.43 Z" fill="#dcb6d6"/>
<path d="M-21.83,23.81 A32.3,32.3 0 0 1 -23.09,22.59 L-19.94,19.51 A27.9,27.9 0 0 0 -18.86,20.56 Z" fill="#4a3a48"/>
<path d="M-23.09,22.59 A32.3,32.3 0 0 1 -25.34,20.03 L-21.89,17.30 A27.9,27.9 0 0 0 -19.94,19.51 Z" fill="#dcb6d6"/>
<path d="M-25.34,20.03 A32.3,32.3 0 0 1 -26.39,18.63 L-22.79,16.09 A27.9,27.9 0 0 0 -21.89,17.30 Z" fill="#4a3a48"/>
<path d="M-26.39,18.63 A32.3,32.3 0 0 1 -28.20,15.75 L-24.36,13.60 A27.9,27.9 0 0 0 -22.79,16.09 Z" fill="#dcb6d6"/>
<path d="M-28.20,15.75 A32.3,32.3 0 0 1 -29.01,14.20 L-25.06,12.26 A27.9,27.9 0 0 0 -24.36,13.60 Z" fill="#4a3a48"/>
<path d="M-29.01,14.20 A32.3,32.3 0 0 1 -30.35,11.07 L-26.21,9.56 A27.9,27.9 0 0 0 -25.06,12.26 Z" fill="#dcb6d6"/>
<path d="M-30.35,11.07 A32.3,32.3 0 0 1 -30.90,9.40 L-26.69,8.12 A27.9,27.9 0 0 0 -26.21,9.56 Z" fill="#4a3a48"/>
<path d="M-30.90,9.40 A32.3,32.3 0 0 1 -31.72,6.10 L-27.40,5.27 A27.9,27.9 0 0 0 -26.69,8.12 Z" fill="#dcb6d6"/>
<path d="M-31.72,6.10 A32.3,32.3 0 0 1 -32.00,4.37 L-27.64,3.78 A27.9,27.9 0 0 0 -27.40,5.27 Z" fill="#4a3a48"/>
<path d="M-32.00,4.37 A32.3,32.3 0 0 1 -32.29,0.98 L-27.89,0.85 A27.9,27.9 0 0 0 -27.64,3.78 Z" fill="#dcb6d6"/>
<path d="M-32.29,0.98 A32.3,32.3 0 0 1 -32.29,-0.77 L-27.89,-0.67 A27.9,27.9 0 0 0 -27.89,0.85 Z" fill="#4a3a48"/>
<path d="M-32.29,-0.77 A32.3,32.3 0 0 1 -32.03,-4.16 L-27.67,-3.60 A27.9,27.9 0 0 0 -27.89,-0.67 Z" fill="#dcb6d6"/>
<path d="M-32.03,-4.16 A32.3,32.3 0 0 1 -31.76,-5.90 L-27.43,-5.09 A27.9,27.9 0 0 0 -27.67,-3.60 Z" fill="#4a3a48"/>
<path d="M-31.76,-5.90 A32.3,32.3 0 0 1 -30.96,-9.20 L-26.74,-7.95 A27.9,27.9 0 0 0 -27.43,-5.09 Z" fill="#dcb6d6"/>
<path d="M-30.96,-9.20 A32.3,32.3 0 0 1 -30.42,-10.87 L-26.27,-9.39 A27.9,27.9 0 0 0 -26.74,-7.95 Z" fill="#4a3a48"/>
<path d="M-30.42,-10.87 A32.3,32.3 0 0 1 -29.10,-14.01 L-25.14,-12.10 A27.9,27.9 0 0 0 -26.27,-9.39 Z" fill="#dcb6d6"/>
<path d="M-29.10,-14.01 A32.3,32.3 0 0 1 -28.30,-15.57 L-24.45,-13.45 A27.9,27.9 0 0 0 -25.14,-12.10 Z" fill="#4a3a48"/>
<path d="M-28.30,-15.57 A32.3,32.3 0 0 1 -26.51,-18.46 L-22.90,-15.94 A27.9,27.9 0 0 0 -24.45,-13.45 Z" fill="#dcb6d6"/>
<path d="M-26.51,-18.46 A32.3,32.3 0 0 1 -25.47,-19.87 L-22.00,-17.16 A27.9,27.9 0 0 0 -22.90,-15.94 Z" fill="#4a3a48"/>
<path d="M-25.47,-19.87 A32.3,32.3 0 0 1 -23.23,-22.44 L-20.07,-19.38 A27.9,27.9 0 0 0 -22.00,-17.16 Z" fill="#dcb6d6"/>
<path d="M-23.23,-22.44 A32.3,32.3 0 0 1 -21.98,-23.67 L-18.99,-20.44 A27.9,27.9 0 0 0 -20.07,-19.38 Z" fill="#4a3a48"/>
<path d="M-21.98,-23.67 A32.3,32.3 0 0 1 -19.37,-25.85 L-16.73,-22.33 A27.9,27.9 0 0 0 -18.99,-20.44 Z" fill="#dcb6d6"/>
<path d="M-19.37,-25.85 A32.3,32.3 0 0 1 -17.94,-26.86 L-15.50,-23.20 A27.9,27.9 0 0 0 -16.73,-22.33 Z" fill="#4a3a48"/>
<path d="M-17.94,-26.86 A32.3,32.3 0 0 1 -15.02,-28.60 L-12.97,-24.70 A27.9,27.9 0 0 0 -15.50,-23.20 Z" fill="#dcb6d6"/>
<path d="M-15.02,-28.60 A32.3,32.3 0 0 1 -13.44,-29.37 L-11.61,-25.37 A27.9,27.9 0 0 0 -12.97,-24.70 Z" fill="#4a3a48"/>
<path d="M-13.44,-29.37 A32.3,32.3 0 0 1 -10.28,-30.62 L-8.88,-26.45 A27.9,27.9 0 0 0 -11.61,-25.37 Z" fill="#dcb6d6"/>
<path d="M-10.28,-30.62 A32.3,32.3 0 0 1 -8.60,-31.13 L-7.43,-26.89 A27.9,27.9 0 0 0 -8.88,-26.45 Z" fill="#4a3a48"/>
<path d="M-8.60,-31.13 A32.3,32.3 0 0 1 -5.28,-31.87 L-4.56,-27.52 A27.9,27.9 0 0 0 -7.43,-26.89 Z" fill="#dcb6d6"/>
<path d="M-5.28,-31.87 A32.3,32.3 0 0 1 -3.54,-32.11 L-3.06,-27.73 A27.9,27.9 0 0 0 -4.56,-27.52 Z" fill="#4a3a48"/>
<path d="M-3.54,-32.11 A32.3,32.3 0 0 1 -0.15,-32.30 L-0.13,-27.90 A27.9,27.9 0 0 0 -3.06,-27.73 Z" fill="#dcb6d6"/>
<path d="M-0.15,-32.30 A32.3,32.3 0 0 1 1.61,-32.26 L1.39,-27.87 A27.9,27.9 0 0 0 -0.13,-27.90 Z" fill="#4a3a48"/>
<path d="M1.61,-32.26 A32.3,32.3 0 0 1 4.99,-31.91 L4.31,-27.56 A27.9,27.9 0 0 0 1.39,-27.87 Z" fill="#dcb6d6"/>
<path d="M4.99,-31.91 A32.3,32.3 0 0 1 6.72,-31.59 L5.80,-27.29 A27.9,27.9 0 0 0 4.31,-27.56 Z" fill="#4a3a48"/>
<path d="M6.72,-31.59 A32.3,32.3 0 0 1 13.14,-29.51 L11.35,-25.49 A27.9,27.9 0 0 0 5.80,-27.29 Z" fill="#e2d8e2"/>
<path d="M13.14,-29.51 A32.3,32.3 0 0 1 16.64,-27.69 L14.37,-23.91 A27.9,27.9 0 0 0 11.35,-25.49 Z" fill="#2a2a2a"/>
<path d="M16.64,-27.69 A32.3,32.3 0 0 1 18.43,-26.52 L15.92,-22.91 A27.9,27.9 0 0 0 14.37,-23.91 Z" fill="#dcc4dc"/>
<path d="M18.39,-26.56 A32.3,32.3 0 0 1 20.11,-25.28 L17.37,-21.83 A27.9,27.9 0 0 0 15.88,-22.94 Z" fill="#d5bdd5"/>
<path d="M20.06,-25.31 A32.3,32.3 0 0 1 21.70,-23.93 L18.74,-20.67 A27.9,27.9 0 0 0 17.33,-21.87 Z" fill="#cfb7cf"/>
<path d="M21.65,-23.97 A32.3,32.3 0 0 1 23.20,-22.48 L20.04,-19.42 A27.9,27.9 0 0 0 18.70,-20.70 Z" fill="#c8b0c8"/>
<path d="M23.16,-22.52 A32.3,32.3 0 0 1 24.60,-20.93 L21.25,-18.08 A27.9,27.9 0 0 0 20.00,-19.45 Z" fill="#c1a9c1"/>
<path d="M24.56,-20.98 A32.3,32.3 0 0 1 25.90,-19.30 L22.37,-16.67 A27.9,27.9 0 0 0 21.22,-18.12 Z" fill="#bba3bb"/>
<path d="M25.86,-19.35 A32.3,32.3 0 0 1 27.09,-17.59 L23.40,-15.20 A27.9,27.9 0 0 0 22.34,-16.71 Z" fill="#b49cb4"/>
<path d="M27.06,-17.64 A32.3,32.3 0 0 1 28.17,-15.81 L24.33,-13.65 A27.9,27.9 0 0 0 23.37,-15.24 Z" fill="#ad95ad"/>
<path d="M28.14,-15.86 A32.3,32.3 0 0 1 29.13,-13.96 L25.16,-12.06 A27.9,27.9 0 0 0 24.31,-13.70 Z" fill="#a78fa7"/>
<path d="M29.10,-14.01 A32.3,32.3 0 0 1 29.97,-12.05 L25.89,-10.41 A27.9,27.9 0 0 0 25.14,-12.10 Z" fill="#a088a0"/>
<path d="M29.95,-12.10 A32.3,32.3 0 0 1 31.34,-7.81 L27.07,-6.75 A27.9,27.9 0 0 0 25.87,-10.45 Z" fill="#2a2a2a"/>
<path d="M31.34,-7.81 A32.3,32.3 0 0 1 26.46,18.53 L22.85,16.00 A27.9,27.9 0 0 0 27.07,-6.75 Z" fill="#e4e4e4"/>
<line x1="0.00" y1="0.00" x2="6.33" y2="-17.38" stroke="#e6e6e6" stroke-width="0.35"/>
<line x1="0.00" y1="0.00" x2="14.17" y2="-11.89" stroke="#e6e6e6" stroke-width="0.35"/>
<line x1="0.00" y1="0.00" x2="17.87" y2="-4.79" stroke="#e6e6e6" stroke-width="0.35"/>
<line x1="0.00" y1="0.00" x2="18.22" y2="3.21" stroke="#e6e6e6" stroke-width="0.35"/>
<line x1="0.00" y1="0.00" x2="11.89" y2="14.17" stroke="#e6e6e6" stroke-width="0.35"/>
<line x1="0.00" y1="0.00" x2="-6.33" y2="17.38" stroke="#e6e6e6" stroke-width="0.35"/>
<line x1="0.00" y1="0.00" x2="-17.38" y2="6.33" stroke="#e6e6e6" stroke-width="0.35"/>
<line x1="0.00" y1="0.00" x2="-16.02" y2="-9.25" stroke="#e6e6e6" stroke-width="0.35"/>
<line x1="0.00" y1="0.00" x2="-9.25" y2="-16.02" stroke="#e6e6e6" stroke-width="0.35"/></g></defs>
<defs><g id="pu2"><path d="M0.00,-40.40 A40.4,40.4 0 0 1 0.00,40.40 L0.00,35.50 A35.5,35.5 0 0 0 0.00,-35.50 Z" fill="#3424b4"/>
<path d="M0.00,40.40 A40.4,40.4 0 0 1 -0.00,-40.40 L-0.00,-35.50 A35.5,35.5 0 0 0 0.00,35.50 Z" fill="#3424b4"/>
<path d="M-39.02,10.46 A40.4,40.4 0 0 1 -37.96,-13.82 L-33.36,-12.14 A35.5,35.5 0 0 0 -34.29,9.19 Z" fill="#3424b4"/>
<path d="M-39.79,7.02 A40.4,40.4 0 0 1 -40.30,-2.82 L-35.41,-2.48 A35.5,35.5 0 0 0 -34.96,6.16 Z" fill="#6a68d0"/>
<path d="M-37.96,-13.82 A40.4,40.4 0 0 1 -35.33,-19.59 L-31.05,-17.21 A35.5,35.5 0 0 0 -33.36,-12.14 Z" fill="#3424b4"/>
<path d="M-35.33,-19.59 A40.4,40.4 0 0 1 -33.88,-22.00 L-29.77,-19.33 A35.5,35.5 0 0 0 -31.05,-17.21 Z" fill="#f0b030"/>
<path d="M-33.88,-22.00 A40.4,40.4 0 0 1 -32.26,-24.31 L-28.35,-21.36 A35.5,35.5 0 0 0 -29.77,-19.33 Z" fill="#c8e4c8"/>
<path d="M-32.26,-24.31 A40.4,40.4 0 0 1 -18.97,-35.67 L-16.67,-31.34 A35.5,35.5 0 0 0 -28.35,-21.36 Z" fill="#3424b4"/>
<path d="M-18.97,-35.67 A40.4,40.4 0 0 1 -7.71,-39.66 L-6.77,-34.85 A35.5,35.5 0 0 0 -16.67,-31.34 Z" fill="#a6bce8"/>
<path d="M-7.71,-39.66 A40.4,40.4 0 0 1 10.46,-39.02 L9.19,-34.29 A35.5,35.5 0 0 0 -6.77,-34.85 Z" fill="#3424b4"/>
<path d="M10.46,-39.02 A40.4,40.4 0 0 1 11.47,-38.74 L10.08,-34.04 A35.5,35.5 0 0 0 9.19,-34.29 Z" fill="#ffffff"/>
<path d="M11.47,-38.74 A40.4,40.4 0 0 1 13.98,-37.90 L12.28,-33.31 A35.5,35.5 0 0 0 10.08,-34.04 Z" fill="#5a60d0"/>
<path d="M13.95,-37.92 A40.4,40.4 0 0 1 16.39,-36.92 L14.40,-32.45 A35.5,35.5 0 0 0 12.25,-33.32 Z" fill="#f0c040"/>
<path d="M16.36,-36.94 A40.4,40.4 0 0 1 18.74,-35.79 L16.47,-31.45 A35.5,35.5 0 0 0 14.38,-32.46 Z" fill="#3a2cb8"/>
<path d="M18.71,-35.81 A40.4,40.4 0 0 1 21.01,-34.51 L18.46,-30.32 A35.5,35.5 0 0 0 16.44,-31.47 Z" fill="#8090e0"/>
<path d="M20.98,-34.53 A40.4,40.4 0 0 1 23.19,-33.08 L20.37,-29.07 A35.5,35.5 0 0 0 18.43,-30.34 Z" fill="#f4c848"/>
<path d="M23.16,-33.10 A40.4,40.4 0 0 1 25.27,-31.52 L22.20,-27.70 A35.5,35.5 0 0 0 20.35,-29.09 Z" fill="#4a3cc0"/>
<path d="M25.24,-31.54 A40.4,40.4 0 0 1 27.25,-29.83 L23.94,-26.21 A35.5,35.5 0 0 0 22.18,-27.72 Z" fill="#c8d8f0"/>
<path d="M27.22,-29.85 A40.4,40.4 0 0 1 29.11,-28.01 L25.58,-24.61 A35.5,35.5 0 0 0 23.92,-26.23 Z" fill="#3424b4"/>
<path d="M29.09,-28.04 A40.4,40.4 0 0 1 30.86,-26.08 L27.11,-22.91 A35.5,35.5 0 0 0 25.56,-24.64 Z" fill="#5a60d0"/>
<path d="M30.83,-26.10 A40.4,40.4 0 0 1 32.47,-24.03 L28.53,-21.12 A35.5,35.5 0 0 0 27.09,-22.94 Z" fill="#f0c040"/>
<path d="M32.45,-24.06 A40.4,40.4 0 0 1 33.95,-21.89 L29.84,-19.24 A35.5,35.5 0 0 0 28.52,-21.14 Z" fill="#3a2cb8"/>
<path d="M33.94,-21.92 A40.4,40.4 0 0 1 35.29,-19.66 L31.01,-17.27 A35.5,35.5 0 0 0 29.82,-19.26 Z" fill="#8090e0"/>
<path d="M35.28,-19.69 A40.4,40.4 0 0 1 36.49,-17.34 L32.06,-15.24 A35.5,35.5 0 0 0 31.00,-17.30 Z" fill="#f4c848"/>
<path d="M36.47,-17.37 A40.4,40.4 0 0 1 37.53,-14.96 L32.98,-13.14 A35.5,35.5 0 0 0 32.05,-15.27 Z" fill="#4a3cc0"/>
<path d="M37.52,-14.99 A40.4,40.4 0 0 1 38.42,-12.51 L33.76,-10.99 A35.5,35.5 0 0 0 32.97,-13.17 Z" fill="#c8d8f0"/>
<path d="M38.40,-12.54 A40.4,40.4 0 0 1 39.14,-10.01 L34.39,-8.79 A35.5,35.5 0 0 0 33.75,-11.02 Z" fill="#3424b4"/>
<path d="M39.13,-10.04 A40.4,40.4 0 0 1 39.70,-7.46 L34.89,-6.56 A35.5,35.5 0 0 0 34.39,-8.82 Z" fill="#5a60d0"/>
<path d="M39.70,-7.50 A40.4,40.4 0 0 1 40.10,-4.89 L35.24,-4.30 A35.5,35.5 0 0 0 34.88,-6.59 Z" fill="#f0c040"/>
<path d="M40.10,-4.92 A40.4,40.4 0 0 1 40.35,-1.92 L35.46,-1.69 A35.5,35.5 0 0 0 35.24,-4.33 Z" fill="#3424b4"/>
<path d="M40.35,-1.96 A40.4,40.4 0 0 1 40.39,1.05 L35.49,0.93 A35.5,35.5 0 0 0 35.46,-1.72 Z" fill="#f0c848"/>
<path d="M40.39,1.02 A40.4,40.4 0 0 1 40.20,4.02 L35.32,3.54 A35.5,35.5 0 0 0 35.49,0.89 Z" fill="#5a50c8"/>
<path d="M40.20,3.99 A40.4,40.4 0 0 1 39.79,6.97 L34.97,6.13 A35.5,35.5 0 0 0 35.33,3.51 Z" fill="#3424b4"/>
<path d="M39.80,6.94 A40.4,40.4 0 0 1 39.17,9.88 L34.42,8.69 A35.5,35.5 0 0 0 34.97,6.10 Z" fill="#c8d0f0"/>
<path d="M39.18,9.85 A40.4,40.4 0 0 1 38.34,12.74 L33.69,11.20 A35.5,35.5 0 0 0 34.43,8.66 Z" fill="#3424b4"/>
<path d="M38.35,12.71 A40.4,40.4 0 0 1 37.30,15.53 L32.77,13.65 A35.5,35.5 0 0 0 33.70,11.17 Z" fill="#f0c848"/>
<path d="M37.31,15.50 A40.4,40.4 0 0 1 36.05,18.23 L31.68,16.02 A35.5,35.5 0 0 0 32.78,13.62 Z" fill="#5a50c8"/>
<path d="M36.07,18.20 A40.4,40.4 0 0 1 34.61,20.84 L30.41,18.31 A35.5,35.5 0 0 0 31.69,15.99 Z" fill="#3424b4"/>
<path d="M34.63,20.81 A40.4,40.4 0 0 1 0.00,40.40 L0.00,35.50 A35.5,35.5 0 0 0 30.43,18.28 Z" fill="#3424b4"/>
<path d="M0.00,40.40 A40.4,40.4 0 0 1 -23.17,33.09 L-20.36,29.08 A35.5,35.5 0 0 0 0.00,35.50 Z" fill="#5a50c8"/>
<path d="M-23.17,33.09 A40.4,40.4 0 0 1 -39.02,10.46 L-34.29,9.19 A35.5,35.5 0 0 0 -20.36,29.08 Z" fill="#3424b4"/></g></defs>
<defs><g id="pu20"><path d="M0.00,-40.40 A40.4,40.4 0 0 1 0.00,40.40 L0.00,35.50 A35.5,35.5 0 0 0 0.00,-35.50 Z" fill="#3424b4"/>
<path d="M0.00,40.40 A40.4,40.4 0 0 1 -0.00,-40.40 L-0.00,-35.50 A35.5,35.5 0 0 0 0.00,35.50 Z" fill="#3424b4"/>
<path d="M-2.82,-40.30 A40.4,40.4 0 0 1 10.46,-39.02 L9.19,-34.29 A35.5,35.5 0 0 0 -2.48,-35.41 Z" fill="#3424b4"/>
<path d="M10.46,-39.02 A40.4,40.4 0 0 1 11.47,-38.74 L10.08,-34.04 A35.5,35.5 0 0 0 9.19,-34.29 Z" fill="#ffffff"/>
<path d="M-7.02,-39.79 A40.4,40.4 0 0 1 -2.82,-40.30 L-2.48,-35.41 A35.5,35.5 0 0 0 -6.16,-34.96 Z" fill="#9090d8"/>
<path d="M-18.34,-36.00 A40.4,40.4 0 0 1 -7.02,-39.79 L-6.16,-34.96 A35.5,35.5 0 0 0 -16.12,-31.63 Z" fill="#f0c850"/>
<path d="M-19.59,-35.33 A40.4,40.4 0 0 1 -18.34,-36.00 L-16.12,-31.63 A35.5,35.5 0 0 0 -17.21,-31.05 Z" fill="#2a2060"/>
<path d="M-34.26,-21.41 A40.4,40.4 0 0 1 -19.59,-35.33 L-17.21,-31.05 A35.5,35.5 0 0 0 -30.11,-18.81 Z" fill="#3424b4"/>
<path d="M-37.19,-15.79 A40.4,40.4 0 0 1 -34.26,-21.41 L-30.11,-18.81 A35.5,35.5 0 0 0 -32.68,-13.87 Z" fill="#a8e0e0"/>
<path d="M-39.02,10.46 A40.4,40.4 0 0 1 -37.19,-15.79 L-32.68,-13.87 A35.5,35.5 0 0 0 -34.29,9.19 Z" fill="#3424b4"/>
<path d="M-39.79,7.02 A40.4,40.4 0 0 1 -39.79,-7.02 L-34.96,-6.16 A35.5,35.5 0 0 0 -34.96,6.16 Z" fill="#5a58cc"/>
<path d="M-33.09,23.17 A40.4,40.4 0 0 1 -39.02,10.46 L-34.29,9.19 A35.5,35.5 0 0 0 -29.08,20.36 Z" fill="#5a5ad0"/>
<path d="M-25.97,30.95 A40.4,40.4 0 0 1 -33.09,23.17 L-29.08,20.36 A35.5,35.5 0 0 0 -22.82,27.19 Z" fill="#3424b4"/>
<path d="M-17.07,36.61 A40.4,40.4 0 0 1 -25.97,30.95 L-22.82,27.19 A35.5,35.5 0 0 0 -15.00,32.17 Z" fill="#c0e0dc"/>
<path d="M-1.41,40.38 A40.4,40.4 0 0 1 -17.07,36.61 L-15.00,32.17 A35.5,35.5 0 0 0 -1.24,35.48 Z" fill="#3424b4"/>
<path d="M20.20,34.99 A40.4,40.4 0 0 1 -1.41,40.38 L-1.24,35.48 A35.5,35.5 0 0 0 17.75,30.74 Z" fill="#3424b4"/>
<path d="M10.46,39.02 A40.4,40.4 0 0 1 -1.41,40.38 L-1.24,35.48 A35.5,35.5 0 0 0 9.19,34.29 Z" fill="#c8e8e0"/>
<path d="M25.97,30.95 A40.4,40.4 0 0 1 10.46,39.02 L9.19,34.29 A35.5,35.5 0 0 0 22.82,27.19 Z" fill="#3424b4"/>
<path d="M34.26,21.41 A40.4,40.4 0 0 1 25.97,30.95 L22.82,27.19 A35.5,35.5 0 0 0 30.11,18.81 Z" fill="#d8e0a8"/>
<path d="M11.47,-38.74 A40.4,40.4 0 0 1 13.98,-37.90 L12.28,-33.31 A35.5,35.5 0 0 0 10.08,-34.04 Z" fill="#f0c850"/>
<path d="M13.95,-37.92 A40.4,40.4 0 0 1 16.39,-36.92 L14.40,-32.45 A35.5,35.5 0 0 0 12.25,-33.32 Z" fill="#a0b8e8"/>
<path d="M16.36,-36.94 A40.4,40.4 0 0 1 18.74,-35.79 L16.47,-31.45 A35.5,35.5 0 0 0 14.38,-32.46 Z" fill="#f4d060"/>
<path d="M18.71,-35.81 A40.4,40.4 0 0 1 21.01,-34.51 L18.46,-30.32 A35.5,35.5 0 0 0 16.44,-31.47 Z" fill="#6070d0"/>
<path d="M20.98,-34.53 A40.4,40.4 0 0 1 23.19,-33.08 L20.37,-29.07 A35.5,35.5 0 0 0 18.43,-30.34 Z" fill="#f0c850"/>
<path d="M23.16,-33.10 A40.4,40.4 0 0 1 25.27,-31.52 L22.20,-27.70 A35.5,35.5 0 0 0 20.35,-29.09 Z" fill="#c8e0f0"/>
<path d="M25.24,-31.54 A40.4,40.4 0 0 1 27.25,-29.83 L23.94,-26.21 A35.5,35.5 0 0 0 22.18,-27.72 Z" fill="#4a40c0"/>
<path d="M27.22,-29.85 A40.4,40.4 0 0 1 29.11,-28.01 L25.58,-24.61 A35.5,35.5 0 0 0 23.92,-26.23 Z" fill="#f0c850"/>
<path d="M29.09,-28.04 A40.4,40.4 0 0 1 30.86,-26.08 L27.11,-22.91 A35.5,35.5 0 0 0 25.56,-24.64 Z" fill="#a0b8e8"/>
<path d="M30.83,-26.10 A40.4,40.4 0 0 1 32.47,-24.03 L28.53,-21.12 A35.5,35.5 0 0 0 27.09,-22.94 Z" fill="#f4d060"/>
<path d="M32.45,-24.06 A40.4,40.4 0 0 1 33.95,-21.89 L29.84,-19.24 A35.5,35.5 0 0 0 28.52,-21.14 Z" fill="#6070d0"/>
<path d="M33.94,-21.92 A40.4,40.4 0 0 1 35.29,-19.66 L31.01,-17.27 A35.5,35.5 0 0 0 29.82,-19.26 Z" fill="#f0c850"/>
<path d="M35.28,-19.69 A40.4,40.4 0 0 1 36.49,-17.34 L32.06,-15.24 A35.5,35.5 0 0 0 31.00,-17.30 Z" fill="#c8e0f0"/>
<path d="M36.47,-17.37 A40.4,40.4 0 0 1 37.53,-14.96 L32.98,-13.14 A35.5,35.5 0 0 0 32.05,-15.27 Z" fill="#4a40c0"/>
<path d="M37.52,-14.99 A40.4,40.4 0 0 1 38.42,-12.51 L33.76,-10.99 A35.5,35.5 0 0 0 32.97,-13.17 Z" fill="#f0c850"/>
<path d="M38.40,-12.54 A40.4,40.4 0 0 1 39.14,-10.01 L34.39,-8.79 A35.5,35.5 0 0 0 33.75,-11.02 Z" fill="#a0b8e8"/>
<path d="M39.13,-10.04 A40.4,40.4 0 0 1 39.70,-7.46 L34.89,-6.56 A35.5,35.5 0 0 0 34.39,-8.82 Z" fill="#f4d060"/>
<path d="M39.70,-7.50 A40.4,40.4 0 0 1 40.10,-4.89 L35.24,-4.30 A35.5,35.5 0 0 0 34.88,-6.59 Z" fill="#6070d0"/>
<path d="M40.10,-4.92 A40.4,40.4 0 0 1 40.36,-1.84 L35.46,-1.62 A35.5,35.5 0 0 0 35.24,-4.33 Z" fill="#3424b4"/>
<path d="M40.36,-1.88 A40.4,40.4 0 0 1 40.38,1.21 L35.48,1.06 A35.5,35.5 0 0 0 35.46,-1.65 Z" fill="#f0c848"/>
<path d="M40.38,1.18 A40.4,40.4 0 0 1 40.17,4.26 L35.30,3.74 A35.5,35.5 0 0 0 35.48,1.03 Z" fill="#ffffff"/>
<path d="M40.18,4.22 A40.4,40.4 0 0 1 39.74,7.28 L34.92,6.40 A35.5,35.5 0 0 0 35.31,3.71 Z" fill="#3a2cb8"/>
<path d="M39.74,7.25 A40.4,40.4 0 0 1 39.07,10.26 L34.34,9.02 A35.5,35.5 0 0 0 34.92,6.37 Z" fill="#e8d890"/>
<path d="M39.08,10.23 A40.4,40.4 0 0 1 38.19,13.19 L33.56,11.59 A35.5,35.5 0 0 0 34.34,8.99 Z" fill="#3424b4"/>
<path d="M38.20,13.15 A40.4,40.4 0 0 1 37.08,16.03 L32.58,14.09 A35.5,35.5 0 0 0 33.57,11.56 Z" fill="#f0c848"/>
<path d="M37.10,16.00 A40.4,40.4 0 0 1 35.76,18.79 L31.43,16.51 A35.5,35.5 0 0 0 32.60,14.06 Z" fill="#ffffff"/>
<path d="M35.78,18.76 A40.4,40.4 0 0 1 34.24,21.44 L30.09,18.84 A35.5,35.5 0 0 0 31.44,16.48 Z" fill="#3a2cb8"/></g></defs>
<defs><g id="pu25"><path d="M0.00,-40.40 A40.4,40.4 0 0 1 0.00,40.40 L0.00,35.50 A35.5,35.5 0 0 0 0.00,-35.50 Z" fill="#5048c4"/>
<path d="M0.00,40.40 A40.4,40.4 0 0 1 -0.00,-40.40 L-0.00,-35.50 A35.5,35.5 0 0 0 0.00,35.50 Z" fill="#5048c4"/>
<path d="M-33.09,-23.17 A40.4,40.4 0 0 1 -17.71,-36.31 L-15.56,-31.91 A35.5,35.5 0 0 0 -29.08,-20.36 Z" fill="#4a40c0"/>
<path d="M-17.71,-36.31 A40.4,40.4 0 0 1 7.71,-39.66 L6.77,-34.85 A35.5,35.5 0 0 0 -15.56,-31.91 Z" fill="#3a2ab8"/>
<path d="M7.71,-39.66 A40.4,40.4 0 0 1 9.43,-39.28 L8.29,-34.52 A35.5,35.5 0 0 0 6.77,-34.85 Z" fill="#f0c040"/>
<path d="M9.43,-39.28 A40.4,40.4 0 0 1 11.14,-38.83 L9.79,-34.12 A35.5,35.5 0 0 0 8.29,-34.52 Z" fill="#a0b0e8"/>
<path d="M-36.61,-17.07 A40.4,40.4 0 0 1 -33.09,-23.17 L-29.08,-20.36 A35.5,35.5 0 0 0 -32.17,-15.00 Z" fill="#c0e0d8"/>
<path d="M-27.03,30.02 A40.4,40.4 0 0 1 -36.61,-17.07 L-32.17,-15.00 A35.5,35.5 0 0 0 -23.75,26.38 Z" fill="#5a58c8"/>
<path d="M-34.99,20.20 A40.4,40.4 0 0 1 -40.25,3.52 L-35.36,3.09 A35.5,35.5 0 0 0 -30.74,17.75 Z" fill="#7070d0"/>
<path d="M-18.97,35.67 A40.4,40.4 0 0 1 -27.03,30.02 L-23.75,26.38 A35.5,35.5 0 0 0 -16.67,31.34 Z" fill="#a8d0e8"/>
<path d="M-0.00,40.40 A40.4,40.4 0 0 1 -18.97,35.67 L-16.67,31.34 A35.5,35.5 0 0 0 -0.00,35.50 Z" fill="#5a58c8"/>
<path d="M10.46,39.02 A40.4,40.4 0 0 1 0.00,40.40 L0.00,35.50 A35.5,35.5 0 0 0 9.19,34.29 Z" fill="#a0d8e8"/>
<path d="M27.03,30.02 A40.4,40.4 0 0 1 10.46,39.02 L9.19,34.29 A35.5,35.5 0 0 0 23.75,26.38 Z" fill="#5050c0"/>
<path d="M33.09,23.17 A40.4,40.4 0 0 1 27.03,30.02 L23.75,26.38 A35.5,35.5 0 0 0 29.08,20.36 Z" fill="#f0d070"/>
<path d="M39.02,10.46 A40.4,40.4 0 0 1 33.09,23.17 L29.08,20.36 A35.5,35.5 0 0 0 34.29,9.19 Z" fill="#3020a8"/>
<path d="M40.25,-3.52 A40.4,40.4 0 0 1 39.02,10.46 L34.29,9.19 A35.5,35.5 0 0 0 35.36,-3.09 Z" fill="#6a70d0"/>
<path d="M11.14,-38.83 A40.4,40.4 0 0 1 13.74,-37.99 L12.07,-33.38 A35.5,35.5 0 0 0 9.79,-34.12 Z" fill="#f0c040"/>
<path d="M13.71,-38.00 A40.4,40.4 0 0 1 16.25,-36.99 L14.28,-32.50 A35.5,35.5 0 0 0 12.04,-33.39 Z" fill="#8090e0"/>
<path d="M16.22,-37.00 A40.4,40.4 0 0 1 18.69,-35.82 L16.42,-31.47 A35.5,35.5 0 0 0 14.25,-32.51 Z" fill="#3a2cb8"/>
<path d="M18.65,-35.84 A40.4,40.4 0 0 1 21.04,-34.49 L18.49,-30.31 A35.5,35.5 0 0 0 16.39,-31.49 Z" fill="#f4d060"/>
<path d="M21.01,-34.51 A40.4,40.4 0 0 1 23.30,-33.01 L20.47,-29.00 A35.5,35.5 0 0 0 18.46,-30.32 Z" fill="#a8c8f0"/>
<path d="M23.27,-33.03 A40.4,40.4 0 0 1 25.45,-31.37 L22.36,-27.57 A35.5,35.5 0 0 0 20.45,-29.02 Z" fill="#5a60d0"/>
<path d="M25.42,-31.40 A40.4,40.4 0 0 1 27.49,-29.60 L24.16,-26.01 A35.5,35.5 0 0 0 22.34,-27.59 Z" fill="#c8e0f0"/>
<path d="M27.47,-29.63 A40.4,40.4 0 0 1 29.41,-27.70 L25.84,-24.34 A35.5,35.5 0 0 0 24.14,-26.03 Z" fill="#f0c040"/>
<path d="M29.39,-27.72 A40.4,40.4 0 0 1 31.20,-25.67 L27.41,-22.56 A35.5,35.5 0 0 0 25.82,-24.36 Z" fill="#8090e0"/>
<path d="M31.17,-25.70 A40.4,40.4 0 0 1 32.84,-23.53 L28.86,-20.67 A35.5,35.5 0 0 0 27.39,-22.58 Z" fill="#3a2cb8"/>
<path d="M32.82,-23.56 A40.4,40.4 0 0 1 34.34,-21.28 L30.18,-18.70 A35.5,35.5 0 0 0 28.84,-20.70 Z" fill="#f4d060"/>
<path d="M34.32,-21.31 A40.4,40.4 0 0 1 35.69,-18.94 L31.36,-16.64 A35.5,35.5 0 0 0 30.16,-18.72 Z" fill="#a8c8f0"/>
<path d="M35.67,-18.97 A40.4,40.4 0 0 1 36.87,-16.51 L32.40,-14.51 A35.5,35.5 0 0 0 31.34,-16.67 Z" fill="#5a60d0"/>
<path d="M36.86,-16.54 A40.4,40.4 0 0 1 37.89,-14.01 L33.30,-12.31 A35.5,35.5 0 0 0 32.39,-14.53 Z" fill="#c8e0f0"/>
<path d="M37.88,-14.04 A40.4,40.4 0 0 1 38.75,-11.44 L34.05,-10.05 A35.5,35.5 0 0 0 33.29,-12.34 Z" fill="#f0c040"/>
<path d="M38.74,-11.47 A40.4,40.4 0 0 1 39.42,-8.82 L34.64,-7.75 A35.5,35.5 0 0 0 34.04,-10.08 Z" fill="#8090e0"/>
<path d="M39.42,-8.86 A40.4,40.4 0 0 1 39.93,-6.17 L35.08,-5.42 A35.5,35.5 0 0 0 34.64,-7.78 Z" fill="#3a2cb8"/>
<path d="M39.92,-6.20 A40.4,40.4 0 0 1 40.25,-3.49 L35.37,-3.06 A35.5,35.5 0 0 0 35.08,-5.45 Z" fill="#f4d060"/></g></defs>
<path d="M90.90,247.90 A48.0,48.0 0 0 1 90.90,343.90 L90.90,339.30 A43.4,43.4 0 0 0 90.90,252.50 Z" fill="#fefcf5"/>
<path d="M90.90,343.90 A48.0,48.0 0 0 1 90.90,247.90 L90.90,252.50 A43.4,43.4 0 0 0 90.90,339.30 Z" fill="#fefcf5"/>
<path d="M46.40,277.92 A48.0,48.0 0 0 1 48.74,272.95 L52.78,275.15 A43.4,43.4 0 0 0 50.66,279.64 Z" fill="#4a90e0"/>
<path d="M49.33,271.90 A48.0,48.0 0 0 1 52.34,267.31 L56.04,270.05 A43.4,43.4 0 0 0 53.31,274.20 Z" fill="#4a90e0"/>
<path d="M68.37,253.52 A48.0,48.0 0 0 1 74.00,250.98 L75.62,255.28 A43.4,43.4 0 0 0 70.52,257.58 Z" fill="#a8c0e8"/>
<path d="M75.27,250.52 A48.0,48.0 0 0 1 81.23,248.88 L82.16,253.39 A43.4,43.4 0 0 0 76.77,254.86 Z" fill="#a8c0e8"/>
<path d="M44.54,308.32 A48.0,48.0 0 0 1 43.47,303.28 L48.02,302.58 A43.4,43.4 0 0 0 48.98,307.13 Z" fill="#d0def2"/>
<path d="M43.31,302.17 A48.0,48.0 0 0 1 42.91,297.03 L47.51,296.92 A43.4,43.4 0 0 0 47.87,301.56 Z" fill="#d0def2"/>
<path d="M136.55,310.73 A48.0,48.0 0 0 1 133.97,317.09 L129.84,315.06 A43.4,43.4 0 0 0 132.18,309.31 Z" fill="#d0def2"/>
<path d="M82.56,248.63 A48.0,48.0 0 0 1 89.39,247.92 L89.54,252.52 A43.4,43.4 0 0 0 83.36,253.16 Z" fill="#eef2f8"/>
<path d="M90.90,247.90 A48.0,48.0 0 0 1 97.75,248.39 L97.09,252.94 A43.4,43.4 0 0 0 90.90,252.50 Z" fill="#eef2f8"/>
<path d="M74.48,341.01 A48.0,48.0 0 0 1 69.44,338.83 L71.49,334.72 A43.4,43.4 0 0 0 76.06,336.68 Z" fill="#f2f5fa"/>
<path d="M68.37,338.28 A48.0,48.0 0 0 1 63.67,335.43 L66.28,331.64 A43.4,43.4 0 0 0 70.52,334.22 Z" fill="#f2f5fa"/>
<path d="M62.69,334.73 A48.0,48.0 0 0 1 58.43,331.26 L61.55,327.87 A43.4,43.4 0 0 0 65.39,331.01 Z" fill="#f2f5fa"/>
<path d="M57.56,330.43 A48.0,48.0 0 0 1 53.83,326.39 L57.38,323.47 A43.4,43.4 0 0 0 60.75,327.12 Z" fill="#f2f5fa"/>
<path d="M53.08,325.45 A48.0,48.0 0 0 1 49.95,320.94 L53.87,318.54 A43.4,43.4 0 0 0 56.70,322.62 Z" fill="#f2f5fa"/>
<path d="M123.64,260.80 A48.0,48.0 0 0 1 125.78,262.92 L122.44,266.08 A43.4,43.4 0 0 0 120.50,264.16 Z" fill="#3a88e0"/>
<path d="M128.20,265.69 A48.0,48.0 0 0 1 130.03,268.10 L126.28,270.76 A43.4,43.4 0 0 0 124.63,268.59 Z" fill="#3a88e0"/>
<path d="M132.04,271.18 A48.0,48.0 0 0 1 133.52,273.82 L129.43,275.93 A43.4,43.4 0 0 0 128.10,273.55 Z" fill="#3a88e0"/>
<path d="M135.08,277.14 A48.0,48.0 0 0 1 136.18,279.96 L131.84,281.49 A43.4,43.4 0 0 0 130.85,278.94 Z" fill="#3a88e0"/>
<path d="M137.26,283.48 A48.0,48.0 0 0 1 137.95,286.42 L133.44,287.33 A43.4,43.4 0 0 0 132.82,284.67 Z" fill="#3a88e0"/>
<use href="#pu2" transform="translate(90.9,295.9)"/>
<use href="#inr" transform="translate(90.9,295.9)"/>
<path d="M246.40,247.90 A48.0,48.0 0 0 1 246.40,343.90 L246.40,339.30 A43.4,43.4 0 0 0 246.40,252.50 Z" fill="#fefcf5"/>
<path d="M246.40,343.90 A48.0,48.0 0 0 1 246.40,247.90 L246.40,252.50 A43.4,43.4 0 0 0 246.40,339.30 Z" fill="#fefcf5"/>
<path d="M222.40,254.33 A48.0,48.0 0 0 1 226.89,252.05 L228.76,256.25 A43.4,43.4 0 0 0 224.70,258.31 Z" fill="#8cb0e4"/>
<path d="M227.90,251.61 A48.0,48.0 0 0 1 232.64,249.91 L233.96,254.32 A43.4,43.4 0 0 0 229.67,255.85 Z" fill="#8cb0e4"/>
<path d="M233.71,249.61 A48.0,48.0 0 0 1 238.63,248.53 L239.37,253.07 A43.4,43.4 0 0 0 234.92,254.04 Z" fill="#8cb0e4"/>
<path d="M208.58,266.35 A48.0,48.0 0 0 1 211.72,262.71 L215.04,265.89 A43.4,43.4 0 0 0 212.20,269.18 Z" fill="#fbc4ac"/>
<path d="M212.46,261.96 A48.0,48.0 0 0 1 216.02,258.73 L218.93,262.30 A43.4,43.4 0 0 0 215.71,265.21 Z" fill="#fbc4ac"/>
<path d="M200.04,308.32 A48.0,48.0 0 0 1 198.74,301.58 L203.31,301.04 A43.4,43.4 0 0 0 204.48,307.13 Z" fill="#fbcab4"/>
<path d="M198.58,300.08 A48.0,48.0 0 0 1 198.47,293.22 L203.07,293.48 A43.4,43.4 0 0 0 203.17,299.68 Z" fill="#fbcab4"/>
<path d="M218.87,335.22 A48.0,48.0 0 0 1 214.05,331.36 L217.15,327.96 A43.4,43.4 0 0 0 221.51,331.45 Z" fill="#fbbca4"/>
<path d="M213.06,330.43 A48.0,48.0 0 0 1 208.90,325.86 L212.49,322.99 A43.4,43.4 0 0 0 216.25,327.12 Z" fill="#fbbca4"/>
<path d="M208.07,324.79 A48.0,48.0 0 0 1 204.67,319.62 L208.67,317.35 A43.4,43.4 0 0 0 211.74,322.02 Z" fill="#fbbca4"/>
<path d="M262.82,341.01 A48.0,48.0 0 0 1 256.22,342.89 L255.28,338.38 A43.4,43.4 0 0 0 261.24,336.68 Z" fill="#fcd4c0"/>
<path d="M254.74,343.17 A48.0,48.0 0 0 1 247.91,343.88 L247.76,339.28 A43.4,43.4 0 0 0 253.94,338.64 Z" fill="#fcd4c0"/>
<path d="M277.25,332.67 A48.0,48.0 0 0 1 272.28,336.33 L269.80,332.45 A43.4,43.4 0 0 0 274.30,329.15 Z" fill="#fcd8c6"/>
<path d="M271.12,337.04 A48.0,48.0 0 0 1 265.63,339.88 L263.79,335.66 A43.4,43.4 0 0 0 268.75,333.10 Z" fill="#fcd8c6"/>
<path d="M204.02,318.43 A48.0,48.0 0 0 1 202.11,314.40 L206.35,312.63 A43.4,43.4 0 0 0 208.08,316.28 Z" fill="#dde6f4"/>
<path d="M201.74,313.49 A48.0,48.0 0 0 1 200.30,309.27 L204.72,307.99 A43.4,43.4 0 0 0 206.02,311.81 Z" fill="#dde6f4"/>
<path d="M239.72,248.37 A48.0,48.0 0 0 1 244.51,247.94 L244.69,252.53 A43.4,43.4 0 0 0 240.36,252.92 Z" fill="#eef0f6"/>
<path d="M245.56,247.91 A48.0,48.0 0 0 1 250.37,248.06 L249.99,252.65 A43.4,43.4 0 0 0 245.64,252.51 Z" fill="#eef0f6"/>
<path d="M251.42,248.16 A48.0,48.0 0 0 1 256.17,248.90 L255.23,253.41 A43.4,43.4 0 0 0 250.94,252.74 Z" fill="#eef0f6"/>
<path d="M257.20,249.13 A48.0,48.0 0 0 1 261.82,250.44 L260.34,254.80 A43.4,43.4 0 0 0 256.16,253.61 Z" fill="#eef0f6"/>
<path d="M277.25,259.13 A48.0,48.0 0 0 1 279.11,260.77 L275.97,264.13 A43.4,43.4 0 0 0 274.30,262.65 Z" fill="#f8a890"/>
<path d="M280.93,262.56 A48.0,48.0 0 0 1 282.60,264.38 L279.13,267.40 A43.4,43.4 0 0 0 277.62,265.75 Z" fill="#a8c0e8"/>
<path d="M284.22,266.35 A48.0,48.0 0 0 1 285.70,268.34 L281.93,270.98 A43.4,43.4 0 0 0 280.60,269.18 Z" fill="#f8b8a0"/>
<path d="M287.11,270.46 A48.0,48.0 0 0 1 288.36,272.59 L284.34,274.83 A43.4,43.4 0 0 0 283.21,272.90 Z" fill="#c0d0f0"/>
<path d="M289.54,274.86 A48.0,48.0 0 0 1 290.57,277.11 L286.34,278.91 A43.4,43.4 0 0 0 285.41,276.87 Z" fill="#f8a080"/>
<path d="M291.51,279.48 A48.0,48.0 0 0 1 292.29,281.83 L287.89,283.18 A43.4,43.4 0 0 0 287.18,281.06 Z" fill="#a8c0e8"/>
<path d="M292.97,284.29 A48.0,48.0 0 0 1 293.51,286.70 L289.00,287.58 A43.4,43.4 0 0 0 288.51,285.40 Z" fill="#f8b098"/>
<path d="M293.93,289.22 A48.0,48.0 0 0 1 294.21,291.68 L289.63,292.08 A43.4,43.4 0 0 0 289.38,289.86 Z" fill="#fbc8b0"/>
<path d="M294.37,294.22 A48.0,48.0 0 0 1 294.39,296.70 L289.79,296.62 A43.4,43.4 0 0 0 289.77,294.39 Z" fill="#f8a088"/>
<path d="M294.28,299.25 A48.0,48.0 0 0 1 294.05,301.71 L289.48,301.15 A43.4,43.4 0 0 0 289.69,298.93 Z" fill="#fcd0c0"/>
<use href="#pu20" transform="translate(246.4,295.9)"/>
<use href="#inr" transform="translate(246.4,295.9)"/>
<path d="M402.00,247.90 A48.0,48.0 0 0 1 402.00,343.90 L402.00,339.30 A43.4,43.4 0 0 0 402.00,252.50 Z" fill="#fefcf5"/>
<path d="M402.00,343.90 A48.0,48.0 0 0 1 402.00,247.90 L402.00,252.50 A43.4,43.4 0 0 0 402.00,339.30 Z" fill="#fefcf5"/>
<path d="M371.15,259.13 A48.0,48.0 0 0 1 375.42,255.93 L377.97,259.76 A43.4,43.4 0 0 0 374.10,262.65 Z" fill="#fdf1ea"/>
<path d="M376.41,255.29 A48.0,48.0 0 0 1 381.08,252.70 L383.08,256.84 A43.4,43.4 0 0 0 378.86,259.18 Z" fill="#fdf1ea"/>
<path d="M382.14,252.20 A48.0,48.0 0 0 1 387.11,250.27 L388.54,254.64 A43.4,43.4 0 0 0 384.04,256.39 Z" fill="#fdf1ea"/>
<path d="M388.23,249.92 A48.0,48.0 0 0 1 393.43,248.67 L394.25,253.20 A43.4,43.4 0 0 0 389.55,254.32 Z" fill="#fdf1ea"/>
<path d="M394.58,248.48 A48.0,48.0 0 0 1 399.90,247.95 L400.10,252.54 A43.4,43.4 0 0 0 395.29,253.02 Z" fill="#fdf1ea"/>
<path d="M401.07,247.91 A48.0,48.0 0 0 1 406.41,248.10 L405.98,252.68 A43.4,43.4 0 0 0 401.16,252.51 Z" fill="#fdf1ea"/>
<path d="M407.57,248.22 A48.0,48.0 0 0 1 412.83,249.14 L411.80,253.62 A43.4,43.4 0 0 0 407.04,252.79 Z" fill="#fdf1ea"/>
<path d="M413.97,249.42 A48.0,48.0 0 0 1 419.06,251.03 L417.43,255.33 A43.4,43.4 0 0 0 412.83,253.87 Z" fill="#fdf1ea"/>
<path d="M420.15,251.47 A48.0,48.0 0 0 1 424.98,253.76 L422.78,257.80 A43.4,43.4 0 0 0 418.41,255.72 Z" fill="#fdf1ea"/>
<path d="M356.89,312.32 A48.0,48.0 0 0 1 355.01,305.72 L359.52,304.78 A43.4,43.4 0 0 0 361.22,310.74 Z" fill="#fbb09a"/>
<path d="M376.56,336.61 A48.0,48.0 0 0 1 372.89,334.07 L375.68,330.41 A43.4,43.4 0 0 0 379.00,332.71 Z" fill="#fa9c84"/>
<path d="M372.12,333.47 A48.0,48.0 0 0 1 368.76,330.53 L371.94,327.21 A43.4,43.4 0 0 0 374.98,329.87 Z" fill="#fa9c84"/>
<path d="M441.32,323.43 A48.0,48.0 0 0 1 438.59,326.97 L435.09,323.99 A43.4,43.4 0 0 0 437.55,320.79 Z" fill="#f46a4a"/>
<path d="M437.95,327.71 A48.0,48.0 0 0 1 434.84,330.91 L431.69,327.55 A43.4,43.4 0 0 0 434.50,324.66 Z" fill="#f46a4a"/>
<path d="M411.98,342.85 A48.0,48.0 0 0 1 406.21,343.72 L405.81,339.13 A43.4,43.4 0 0 0 411.02,338.35 Z" fill="#f02c18"/>
<path d="M404.93,343.81 A48.0,48.0 0 0 1 399.09,343.81 L399.37,339.22 A43.4,43.4 0 0 0 404.65,339.22 Z" fill="#f02c18"/>
<path d="M449.27,304.24 A48.0,48.0 0 0 1 448.38,308.26 L443.94,307.07 A43.4,43.4 0 0 0 444.74,303.44 Z" fill="#fbb8a0"/>
<path d="M448.14,309.13 A48.0,48.0 0 0 1 446.84,313.04 L442.54,311.40 A43.4,43.4 0 0 0 443.72,307.86 Z" fill="#fbb8a0"/>
<path d="M357.50,277.92 A48.0,48.0 0 0 1 358.52,275.57 L362.69,277.52 A43.4,43.4 0 0 0 361.76,279.64 Z" fill="#f86a48"/>
<path d="M359.36,273.86 A48.0,48.0 0 0 1 360.60,271.61 L364.56,273.94 A43.4,43.4 0 0 0 363.45,275.97 Z" fill="#f88060"/>
<path d="M361.59,269.99 A48.0,48.0 0 0 1 363.03,267.87 L366.77,270.56 A43.4,43.4 0 0 0 365.46,272.47 Z" fill="#f86a48"/>
<path d="M441.32,268.37 A48.0,48.0 0 0 1 443.12,271.13 L439.18,273.51 A43.4,43.4 0 0 0 437.55,271.01 Z" fill="#fbc0a8"/>
<path d="M444.77,274.11 A48.0,48.0 0 0 1 446.16,277.10 L441.93,278.90 A43.4,43.4 0 0 0 440.67,276.20 Z" fill="#fdd8c8"/>
<path d="M447.38,280.27 A48.0,48.0 0 0 1 448.35,283.42 L443.91,284.62 A43.4,43.4 0 0 0 443.04,281.77 Z" fill="#fbb8a0"/>
<path d="M449.12,286.74 A48.0,48.0 0 0 1 449.64,290.00 L445.07,290.56 A43.4,43.4 0 0 0 444.60,287.62 Z" fill="#fcd0c0"/>
<path d="M449.93,293.39 A48.0,48.0 0 0 1 449.99,296.68 L445.39,296.61 A43.4,43.4 0 0 0 445.34,293.63 Z" fill="#fbc0a8"/>
<use href="#pu25" transform="translate(402.0,295.9)"/>
<use href="#inr" transform="translate(402.0,295.9)"/>
<path d="M90.90,368.10 A48.0,48.0 0 0 1 90.90,464.10 L90.90,459.50 A43.4,43.4 0 0 0 90.90,372.70 Z" fill="#fefcf5"/>
<path d="M90.90,464.10 A48.0,48.0 0 0 1 90.90,368.10 L90.90,372.70 A43.4,43.4 0 0 0 90.90,459.50 Z" fill="#fefcf5"/>
<path d="M46.40,398.12 A48.0,48.0 0 0 1 48.74,393.15 L52.78,395.35 A43.4,43.4 0 0 0 50.66,399.84 Z" fill="#5a98e0"/>
<path d="M49.33,392.10 A48.0,48.0 0 0 1 52.34,387.51 L56.04,390.25 A43.4,43.4 0 0 0 53.31,394.40 Z" fill="#5a98e0"/>
<path d="M70.61,372.60 A48.0,48.0 0 0 1 75.39,370.67 L76.88,375.03 A43.4,43.4 0 0 0 72.56,376.77 Z" fill="#b0c8e8"/>
<path d="M76.47,370.32 A48.0,48.0 0 0 1 81.45,369.04 L82.36,373.55 A43.4,43.4 0 0 0 77.85,374.71 Z" fill="#b0c8e8"/>
<path d="M82.56,368.83 A48.0,48.0 0 0 1 88.25,368.17 L88.50,372.77 A43.4,43.4 0 0 0 83.36,373.36 Z" fill="#fde2d4"/>
<path d="M89.50,368.12 A48.0,48.0 0 0 1 95.22,368.30 L94.81,372.88 A43.4,43.4 0 0 0 89.64,372.72 Z" fill="#fde2d4"/>
<path d="M96.47,368.42 A48.0,48.0 0 0 1 102.11,369.43 L101.03,373.90 A43.4,43.4 0 0 0 95.94,372.99 Z" fill="#fde2d4"/>
<path d="M49.33,440.10 A48.0,48.0 0 0 1 46.66,434.72 L50.90,432.94 A43.4,43.4 0 0 0 53.31,437.80 Z" fill="#fde2d6"/>
<path d="M46.16,433.50 A48.0,48.0 0 0 1 44.34,427.77 L48.80,426.65 A43.4,43.4 0 0 0 50.45,431.83 Z" fill="#fde2d6"/>
<path d="M44.04,426.49 A48.0,48.0 0 0 1 43.11,420.55 L47.69,420.13 A43.4,43.4 0 0 0 48.53,425.49 Z" fill="#fde2d6"/>
<path d="M43.00,419.24 A48.0,48.0 0 0 1 42.99,413.23 L47.58,413.51 A43.4,43.4 0 0 0 47.59,418.94 Z" fill="#fde2d6"/>
<path d="M66.90,457.67 A48.0,48.0 0 0 1 61.22,453.82 L64.06,450.21 A43.4,43.4 0 0 0 69.20,453.69 Z" fill="#fbd4be"/>
<path d="M60.05,452.87 A48.0,48.0 0 0 1 55.12,448.09 L58.55,445.03 A43.4,43.4 0 0 0 63.00,449.35 Z" fill="#fbd4be"/>
<path d="M103.32,462.46 A48.0,48.0 0 0 1 96.58,463.76 L96.04,459.19 A43.4,43.4 0 0 0 102.13,458.02 Z" fill="#fbd4be"/>
<path d="M95.08,463.92 A48.0,48.0 0 0 1 88.22,464.03 L88.48,459.43 A43.4,43.4 0 0 0 94.68,459.33 Z" fill="#fbd4be"/>
<path d="M121.75,452.87 A48.0,48.0 0 0 1 117.64,455.96 L115.07,452.14 A43.4,43.4 0 0 0 118.80,449.35 Z" fill="#fbd4be"/>
<path d="M116.69,456.58 A48.0,48.0 0 0 1 112.20,459.11 L110.16,454.99 A43.4,43.4 0 0 0 114.22,452.70 Z" fill="#fbd4be"/>
<path d="M123.64,381.00 A48.0,48.0 0 0 1 125.78,383.12 L122.44,386.28 A43.4,43.4 0 0 0 120.50,384.36 Z" fill="#3a88e0"/>
<path d="M128.20,385.89 A48.0,48.0 0 0 1 130.03,388.30 L126.28,390.96 A43.4,43.4 0 0 0 124.63,388.79 Z" fill="#3a88e0"/>
<path d="M132.04,391.38 A48.0,48.0 0 0 1 133.52,394.02 L129.43,396.13 A43.4,43.4 0 0 0 128.10,393.75 Z" fill="#3a88e0"/>
<path d="M135.08,397.34 A48.0,48.0 0 0 1 136.18,400.16 L131.84,401.69 A43.4,43.4 0 0 0 130.85,399.14 Z" fill="#3a88e0"/>
<path d="M137.26,403.68 A48.0,48.0 0 0 1 137.95,406.62 L133.44,407.53 A43.4,43.4 0 0 0 132.82,404.87 Z" fill="#3a88e0"/>
<path d="M138.78,412.75 A48.0,48.0 0 0 1 138.90,416.18 L134.30,416.18 A43.4,43.4 0 0 0 134.19,413.07 Z" fill="#fcd4c0"/>
<path d="M138.64,421.12 A48.0,48.0 0 0 1 138.16,424.52 L133.63,423.71 A43.4,43.4 0 0 0 134.06,420.64 Z" fill="#fcd4c0"/>
<path d="M137.04,429.33 A48.0,48.0 0 0 1 135.98,432.60 L131.66,431.01 A43.4,43.4 0 0 0 132.62,428.06 Z" fill="#fcd4c0"/>
<use href="#pu2" transform="translate(90.9,416.1)"/>
<use href="#inr" transform="translate(90.9,416.1)"/>
<path d="M246.40,368.10 A48.0,48.0 0 0 1 246.40,464.10 L246.40,459.50 A43.4,43.4 0 0 0 246.40,372.70 Z" fill="#fefcf5"/>
<path d="M246.40,464.10 A48.0,48.0 0 0 1 246.40,368.10 L246.40,372.70 A43.4,43.4 0 0 0 246.40,459.50 Z" fill="#fefcf5"/>
<path d="M218.87,376.78 A48.0,48.0 0 0 1 222.94,374.22 L225.19,378.24 A43.4,43.4 0 0 0 221.51,380.55 Z" fill="#b8cce8"/>
<path d="M226.11,372.60 A48.0,48.0 0 0 1 230.89,370.67 L232.38,375.03 A43.4,43.4 0 0 0 228.06,376.77 Z" fill="#fcd4c2"/>
<path d="M231.97,370.32 A48.0,48.0 0 0 1 236.95,369.04 L237.86,373.55 A43.4,43.4 0 0 0 233.35,374.71 Z" fill="#fcd4c2"/>
<path d="M238.06,368.83 A48.0,48.0 0 0 1 243.18,368.21 L243.49,372.80 A43.4,43.4 0 0 0 238.86,373.36 Z" fill="#fcd4c2"/>
<path d="M244.31,368.15 A48.0,48.0 0 0 1 249.46,368.20 L249.16,372.79 A43.4,43.4 0 0 0 244.51,372.74 Z" fill="#fcd4c2"/>
<path d="M202.90,395.81 A48.0,48.0 0 0 1 205.62,390.78 L209.53,393.21 A43.4,43.4 0 0 0 207.07,397.76 Z" fill="#f8876a"/>
<path d="M206.30,389.72 A48.0,48.0 0 0 1 209.72,385.14 L213.23,388.11 A43.4,43.4 0 0 0 210.14,392.25 Z" fill="#f8876a"/>
<path d="M210.54,384.19 A48.0,48.0 0 0 1 214.59,380.15 L217.64,383.60 A43.4,43.4 0 0 0 213.98,387.25 Z" fill="#f8876a"/>
<path d="M201.29,432.52 A48.0,48.0 0 0 1 199.80,427.59 L204.26,426.49 A43.4,43.4 0 0 0 205.62,430.94 Z" fill="#f87a5a"/>
<path d="M199.54,426.49 A48.0,48.0 0 0 1 198.69,421.41 L203.27,420.90 A43.4,43.4 0 0 0 204.03,425.49 Z" fill="#f87a5a"/>
<path d="M198.58,420.28 A48.0,48.0 0 0 1 198.41,415.14 L203.01,415.23 A43.4,43.4 0 0 0 203.17,419.88 Z" fill="#f87a5a"/>
<path d="M198.45,414.01 A48.0,48.0 0 0 1 198.95,408.88 L203.49,409.57 A43.4,43.4 0 0 0 203.04,414.21 Z" fill="#f87a5a"/>
<path d="M222.40,457.67 A48.0,48.0 0 0 1 217.40,454.35 L220.18,450.68 A43.4,43.4 0 0 0 224.70,453.69 Z" fill="#f9a688"/>
<path d="M216.36,453.53 A48.0,48.0 0 0 1 211.92,449.49 L215.22,446.29 A43.4,43.4 0 0 0 219.23,449.95 Z" fill="#f9a688"/>
<path d="M211.01,448.53 A48.0,48.0 0 0 1 207.24,443.85 L210.99,441.19 A43.4,43.4 0 0 0 214.40,445.42 Z" fill="#f9a688"/>
<path d="M206.49,442.77 A48.0,48.0 0 0 1 203.47,437.57 L207.59,435.52 A43.4,43.4 0 0 0 210.31,440.21 Z" fill="#f9a688"/>
<path d="M258.82,462.46 A48.0,48.0 0 0 1 252.94,463.65 L252.31,459.10 A43.4,43.4 0 0 0 257.63,458.02 Z" fill="#fbb496"/>
<path d="M251.63,463.81 A48.0,48.0 0 0 1 245.63,464.09 L245.70,459.49 A43.4,43.4 0 0 0 251.12,459.24 Z" fill="#fbb496"/>
<path d="M244.31,464.05 A48.0,48.0 0 0 1 238.33,463.42 L239.11,458.88 A43.4,43.4 0 0 0 244.51,459.46 Z" fill="#fbb496"/>
<path d="M237.04,463.18 A48.0,48.0 0 0 1 231.23,461.64 L232.68,457.28 A43.4,43.4 0 0 0 237.93,458.67 Z" fill="#fbb496"/>
<path d="M277.25,452.87 A48.0,48.0 0 0 1 271.69,456.89 L269.27,452.99 A43.4,43.4 0 0 0 274.30,449.35 Z" fill="#fbc4ac"/>
<path d="M270.40,457.67 A48.0,48.0 0 0 1 264.23,460.67 L262.52,456.40 A43.4,43.4 0 0 0 268.10,453.69 Z" fill="#fbc4ac"/>
<path d="M270.40,374.53 A48.0,48.0 0 0 1 272.97,376.12 L270.42,379.95 A43.4,43.4 0 0 0 268.10,378.51 Z" fill="#f8a088"/>
<path d="M275.95,378.28 A48.0,48.0 0 0 1 278.27,380.21 L275.22,383.65 A43.4,43.4 0 0 0 273.12,381.90 Z" fill="#fcd8c8"/>
<path d="M280.93,382.76 A48.0,48.0 0 0 1 282.96,385.00 L279.45,387.98 A43.4,43.4 0 0 0 277.62,385.95 Z" fill="#f89878"/>
<path d="M285.23,387.89 A48.0,48.0 0 0 1 286.93,390.39 L283.05,392.85 A43.4,43.4 0 0 0 281.51,390.59 Z" fill="#c8d4ee"/>
<path d="M288.78,393.57 A48.0,48.0 0 0 1 290.12,396.28 L285.93,398.18 A43.4,43.4 0 0 0 284.72,395.72 Z" fill="#f8a080"/>
<path d="M291.51,399.68 A48.0,48.0 0 0 1 292.45,402.55 L288.04,403.85 A43.4,43.4 0 0 0 287.18,401.26 Z" fill="#fcd0c0"/>
<path d="M293.35,406.12 A48.0,48.0 0 0 1 293.89,409.09 L289.34,409.77 A43.4,43.4 0 0 0 288.85,407.08 Z" fill="#f89070"/>
<path d="M294.28,412.75 A48.0,48.0 0 0 1 294.40,415.77 L289.80,415.80 A43.4,43.4 0 0 0 289.69,413.07 Z" fill="#fde0d4"/>
<path d="M294.28,419.45 A48.0,48.0 0 0 1 293.98,422.45 L289.42,421.85 A43.4,43.4 0 0 0 289.69,419.13 Z" fill="#f8a080"/>
<path d="M293.35,426.08 A48.0,48.0 0 0 1 292.63,429.01 L288.20,427.78 A43.4,43.4 0 0 0 288.85,425.12 Z" fill="#fcd4c4"/>
<use href="#pu20" transform="translate(246.4,416.1)"/>
<use href="#inr" transform="translate(246.4,416.1)"/>
<path d="M402.00,368.10 A48.0,48.0 0 0 1 402.00,464.10 L402.00,459.50 A43.4,43.4 0 0 0 402.00,372.70 Z" fill="#fefcf5"/>
<path d="M402.00,464.10 A48.0,48.0 0 0 1 402.00,368.10 L402.00,372.70 A43.4,43.4 0 0 0 402.00,459.50 Z" fill="#fefcf5"/>
<path d="M384.80,371.29 A48.0,48.0 0 0 1 390.20,369.57 L391.33,374.03 A43.4,43.4 0 0 0 386.45,375.58 Z" fill="#fcc8b0"/>
<path d="M391.41,369.28 A48.0,48.0 0 0 1 397.00,368.36 L397.47,372.94 A43.4,43.4 0 0 0 392.42,373.77 Z" fill="#fcc8b0"/>
<path d="M398.23,368.25 A48.0,48.0 0 0 1 403.90,368.14 L403.72,372.73 A43.4,43.4 0 0 0 398.59,372.83 Z" fill="#fcc8b0"/>
<path d="M405.14,368.20 A48.0,48.0 0 0 1 410.76,368.91 L409.92,373.43 A43.4,43.4 0 0 0 404.84,372.79 Z" fill="#fcc8b0"/>
<path d="M356.89,399.68 A48.0,48.0 0 0 1 359.38,394.03 L363.46,396.14 A43.4,43.4 0 0 0 361.22,401.26 Z" fill="#f25a3a"/>
<path d="M360.02,392.83 A48.0,48.0 0 0 1 363.36,387.63 L367.06,390.36 A43.4,43.4 0 0 0 364.04,395.06 Z" fill="#f25a3a"/>
<path d="M358.50,436.39 A48.0,48.0 0 0 1 356.05,429.97 L360.45,428.64 A43.4,43.4 0 0 0 362.67,434.44 Z" fill="#fbb8a0"/>
<path d="M355.64,428.52 A48.0,48.0 0 0 1 354.34,421.78 L358.91,421.24 A43.4,43.4 0 0 0 360.08,427.33 Z" fill="#fbb8a0"/>
<path d="M379.47,458.48 A48.0,48.0 0 0 1 373.93,455.04 L376.62,451.30 A43.4,43.4 0 0 0 381.62,454.42 Z" fill="#f9a488"/>
<path d="M372.78,454.18 A48.0,48.0 0 0 1 367.89,449.87 L371.16,446.63 A43.4,43.4 0 0 0 375.58,450.53 Z" fill="#f9a488"/>
<path d="M410.34,463.37 A48.0,48.0 0 0 1 404.54,464.03 L404.29,459.44 A43.4,43.4 0 0 0 409.54,458.84 Z" fill="#f03018"/>
<path d="M403.26,464.08 A48.0,48.0 0 0 1 397.42,463.88 L397.86,459.30 A43.4,43.4 0 0 0 403.14,459.49 Z" fill="#f03018"/>
<path d="M438.77,446.95 A48.0,48.0 0 0 1 435.99,449.99 L432.73,446.75 A43.4,43.4 0 0 0 435.25,444.00 Z" fill="#f27050"/>
<path d="M435.34,450.63 A48.0,48.0 0 0 1 432.26,453.36 L429.36,449.79 A43.4,43.4 0 0 0 432.15,447.32 Z" fill="#f27050"/>
<path d="M418.42,370.99 A48.0,48.0 0 0 1 421.76,372.35 L419.86,376.55 A43.4,43.4 0 0 0 416.84,375.32 Z" fill="#fcd0bc"/>
<path d="M426.36,374.74 A48.0,48.0 0 0 1 429.40,376.69 L426.77,380.46 A43.4,43.4 0 0 0 424.03,378.71 Z" fill="#fde4d8"/>
<path d="M433.49,379.87 A48.0,48.0 0 0 1 436.12,382.34 L432.85,385.58 A43.4,43.4 0 0 0 430.47,383.35 Z" fill="#fbc0a8"/>
<path d="M439.57,386.22 A48.0,48.0 0 0 1 441.70,389.12 L437.90,391.71 A43.4,43.4 0 0 0 435.97,389.08 Z" fill="#fde4d8"/>
<path d="M444.38,393.57 A48.0,48.0 0 0 1 445.95,396.81 L441.74,398.66 A43.4,43.4 0 0 0 440.32,395.72 Z" fill="#fcd0bc"/>
<path d="M447.78,401.67 A48.0,48.0 0 0 1 448.73,405.14 L444.25,406.19 A43.4,43.4 0 0 0 443.39,403.05 Z" fill="#f8a088"/>
<path d="M449.64,410.25 A48.0,48.0 0 0 1 449.95,413.84 L445.35,414.06 A43.4,43.4 0 0 0 445.08,410.81 Z" fill="#fde4d8"/>
<path d="M449.91,419.03 A48.0,48.0 0 0 1 449.56,422.62 L445.00,421.99 A43.4,43.4 0 0 0 445.32,418.75 Z" fill="#fbc0a8"/>
<path d="M448.57,427.71 A48.0,48.0 0 0 1 447.57,431.18 L443.20,429.73 A43.4,43.4 0 0 0 444.11,426.60 Z" fill="#fde4d8"/>
<path d="M445.68,436.01 A48.0,48.0 0 0 1 444.06,439.23 L440.03,437.01 A43.4,43.4 0 0 0 441.49,434.10 Z" fill="#fcd0bc"/>
<use href="#pu25" transform="translate(402.0,416.1)"/>
<use href="#inr" transform="translate(402.0,416.1)"/>
<path d="M90.90,488.40 A48.0,48.0 0 0 1 90.90,584.40 L90.90,579.80 A43.4,43.4 0 0 0 90.90,493.00 Z" fill="#fefcf5"/>
<path d="M90.90,584.40 A48.0,48.0 0 0 1 90.90,488.40 L90.90,493.00 A43.4,43.4 0 0 0 90.90,579.80 Z" fill="#fefcf5"/>
<path d="M46.40,518.42 A48.0,48.0 0 0 1 48.74,513.45 L52.78,515.65 A43.4,43.4 0 0 0 50.66,520.14 Z" fill="#4a90e0"/>
<path d="M49.33,512.40 A48.0,48.0 0 0 1 52.34,507.81 L56.04,510.55 A43.4,43.4 0 0 0 53.31,514.70 Z" fill="#4a90e0"/>
<path d="M68.37,494.02 A48.0,48.0 0 0 1 74.00,491.48 L75.62,495.78 A43.4,43.4 0 0 0 70.52,498.08 Z" fill="#a0bce6"/>
<path d="M75.27,491.02 A48.0,48.0 0 0 1 81.23,489.38 L82.16,493.89 A43.4,43.4 0 0 0 76.77,495.36 Z" fill="#a0bce6"/>
<path d="M44.54,548.82 A48.0,48.0 0 0 1 43.47,543.78 L48.02,543.08 A43.4,43.4 0 0 0 48.98,547.63 Z" fill="#d0def2"/>
<path d="M43.31,542.67 A48.0,48.0 0 0 1 42.91,537.53 L47.51,537.42 A43.4,43.4 0 0 0 47.87,542.06 Z" fill="#d0def2"/>
<path d="M136.55,551.23 A48.0,48.0 0 0 1 133.97,557.59 L129.84,555.56 A43.4,43.4 0 0 0 132.18,549.81 Z" fill="#d0def2"/>
<path d="M82.56,489.13 A48.0,48.0 0 0 1 89.39,488.42 L89.54,493.02 A43.4,43.4 0 0 0 83.36,493.66 Z" fill="#eef2f8"/>
<path d="M90.90,488.40 A48.0,48.0 0 0 1 97.75,488.89 L97.09,493.44 A43.4,43.4 0 0 0 90.90,493.00 Z" fill="#eef2f8"/>
<path d="M123.64,501.30 A48.0,48.0 0 0 1 125.78,503.42 L122.44,506.58 A43.4,43.4 0 0 0 120.50,504.66 Z" fill="#3a88e0"/>
<path d="M128.20,506.19 A48.0,48.0 0 0 1 130.03,508.60 L126.28,511.26 A43.4,43.4 0 0 0 124.63,509.09 Z" fill="#3a88e0"/>
<path d="M132.04,511.68 A48.0,48.0 0 0 1 133.52,514.32 L129.43,516.43 A43.4,43.4 0 0 0 128.10,514.05 Z" fill="#3a88e0"/>
<path d="M135.08,517.64 A48.0,48.0 0 0 1 136.18,520.46 L131.84,521.99 A43.4,43.4 0 0 0 130.85,519.44 Z" fill="#3a88e0"/>
<path d="M137.26,523.98 A48.0,48.0 0 0 1 137.95,526.92 L133.44,527.83 A43.4,43.4 0 0 0 132.82,525.17 Z" fill="#3a88e0"/>
<path d="M138.78,533.05 A48.0,48.0 0 0 1 138.90,536.48 L134.30,536.48 A43.4,43.4 0 0 0 134.19,533.37 Z" fill="#fcd8c6"/>
<path d="M138.64,541.42 A48.0,48.0 0 0 1 138.16,544.82 L133.63,544.01 A43.4,43.4 0 0 0 134.06,540.94 Z" fill="#fcd8c6"/>
<use href="#pu2" transform="translate(90.9,536.4)"/>
<use href="#inr" transform="translate(90.9,536.4)"/>
<path d="M246.20,488.40 A48.0,48.0 0 0 1 246.20,584.40 L246.20,579.80 A43.4,43.4 0 0 0 246.20,493.00 Z" fill="#fefcf5"/>
<path d="M246.20,584.40 A48.0,48.0 0 0 1 246.20,488.40 L246.20,493.00 A43.4,43.4 0 0 0 246.20,579.80 Z" fill="#fefcf5"/>
<path d="M223.67,494.02 A48.0,48.0 0 0 1 229.94,491.24 L231.50,495.57 A43.4,43.4 0 0 0 225.82,498.08 Z" fill="#a8c0e8"/>
<path d="M231.37,490.75 A48.0,48.0 0 0 1 238.03,489.10 L238.81,493.63 A43.4,43.4 0 0 0 232.79,495.12 Z" fill="#a8c0e8"/>
<path d="M209.43,505.55 A48.0,48.0 0 0 1 212.21,502.51 L215.47,505.75 A43.4,43.4 0 0 0 212.95,508.50 Z" fill="#fbc8b0"/>
<path d="M212.86,501.87 A48.0,48.0 0 0 1 215.94,499.14 L218.84,502.71 A43.4,43.4 0 0 0 216.05,505.18 Z" fill="#fbc8b0"/>
<path d="M201.09,552.82 A48.0,48.0 0 0 1 199.60,547.89 L204.06,546.79 A43.4,43.4 0 0 0 205.42,551.24 Z" fill="#fbc2aa"/>
<path d="M199.34,546.79 A48.0,48.0 0 0 1 198.49,541.71 L203.07,541.20 A43.4,43.4 0 0 0 203.83,545.79 Z" fill="#fbc2aa"/>
<path d="M198.38,540.58 A48.0,48.0 0 0 1 198.21,535.44 L202.81,535.53 A43.4,43.4 0 0 0 202.97,540.18 Z" fill="#fbc2aa"/>
<path d="M198.25,534.31 A48.0,48.0 0 0 1 198.75,529.18 L203.29,529.87 A43.4,43.4 0 0 0 202.84,534.51 Z" fill="#fbc2aa"/>
<path d="M218.67,575.72 A48.0,48.0 0 0 1 214.19,572.16 L217.25,568.74 A43.4,43.4 0 0 0 221.31,571.95 Z" fill="#f8b098"/>
<path d="M213.26,571.31 A48.0,48.0 0 0 1 209.34,567.15 L212.87,564.20 A43.4,43.4 0 0 0 216.42,567.97 Z" fill="#f8b098"/>
<path d="M208.55,566.17 A48.0,48.0 0 0 1 205.27,561.48 L209.20,559.08 A43.4,43.4 0 0 0 212.16,563.32 Z" fill="#f8b098"/>
<path d="M246.20,584.40 A48.0,48.0 0 0 1 239.35,583.91 L240.01,579.36 A43.4,43.4 0 0 0 246.20,579.80 Z" fill="#fbc2aa"/>
<path d="M237.86,583.67 A48.0,48.0 0 0 1 231.21,582.00 L232.64,577.63 A43.4,43.4 0 0 0 238.66,579.14 Z" fill="#fbc2aa"/>
<path d="M273.73,575.72 A48.0,48.0 0 0 1 269.36,578.44 L267.14,574.41 A43.4,43.4 0 0 0 271.09,571.95 Z" fill="#fbd2bc"/>
<path d="M268.36,578.98 A48.0,48.0 0 0 1 263.68,581.11 L262.00,576.82 A43.4,43.4 0 0 0 266.24,574.90 Z" fill="#fbd2bc"/>
<path d="M199.84,523.98 A48.0,48.0 0 0 1 202.08,517.49 L206.31,519.30 A43.4,43.4 0 0 0 204.28,525.17 Z" fill="#eef2f8"/>
<path d="M202.70,516.11 A48.0,48.0 0 0 1 206.04,510.12 L209.88,512.64 A43.4,43.4 0 0 0 206.87,518.06 Z" fill="#eef2f8"/>
<path d="M270.20,494.83 A48.0,48.0 0 0 1 272.77,496.42 L270.22,500.25 A43.4,43.4 0 0 0 267.90,498.81 Z" fill="#f8b098"/>
<path d="M275.75,498.58 A48.0,48.0 0 0 1 278.07,500.51 L275.02,503.95 A43.4,43.4 0 0 0 272.92,502.20 Z" fill="#a8c0e8"/>
<path d="M280.73,503.06 A48.0,48.0 0 0 1 282.76,505.30 L279.25,508.28 A43.4,43.4 0 0 0 277.42,506.25 Z" fill="#f8a890"/>
<path d="M285.03,508.19 A48.0,48.0 0 0 1 286.73,510.69 L282.85,513.15 A43.4,43.4 0 0 0 281.31,510.89 Z" fill="#c0d0f0"/>
<path d="M288.58,513.87 A48.0,48.0 0 0 1 289.92,516.58 L285.73,518.48 A43.4,43.4 0 0 0 284.52,516.02 Z" fill="#f07050"/>
<path d="M291.31,519.98 A48.0,48.0 0 0 1 292.25,522.85 L287.84,524.15 A43.4,43.4 0 0 0 286.98,521.56 Z" fill="#a8c0e8"/>
<path d="M293.15,526.42 A48.0,48.0 0 0 1 293.69,529.39 L289.14,530.07 A43.4,43.4 0 0 0 288.65,527.38 Z" fill="#f8b098"/>
<path d="M294.08,533.05 A48.0,48.0 0 0 1 294.20,536.07 L289.60,536.10 A43.4,43.4 0 0 0 289.49,533.37 Z" fill="#fcd0c0"/>
<path d="M294.08,539.75 A48.0,48.0 0 0 1 293.78,542.75 L289.22,542.15 A43.4,43.4 0 0 0 289.49,539.43 Z" fill="#f8a088"/>
<path d="M293.15,546.38 A48.0,48.0 0 0 1 292.43,549.31 L288.00,548.08 A43.4,43.4 0 0 0 288.65,545.42 Z" fill="#c8d4ee"/>
<use href="#pu20" transform="translate(246.2,536.4)"/>
<use href="#inr" transform="translate(246.2,536.4)"/>
<path d="M402.00,488.40 A48.0,48.0 0 0 1 402.00,584.40 L402.00,579.80 A43.4,43.4 0 0 0 402.00,493.00 Z" fill="#fefcf5"/>
<path d="M402.00,584.40 A48.0,48.0 0 0 1 402.00,488.40 L402.00,493.00 A43.4,43.4 0 0 0 402.00,579.80 Z" fill="#fefcf5"/>
<path d="M379.47,494.02 A48.0,48.0 0 0 1 385.10,491.48 L386.72,495.78 A43.4,43.4 0 0 0 381.62,498.08 Z" fill="#fbc4b0"/>
<path d="M386.37,491.02 A48.0,48.0 0 0 1 392.33,489.38 L393.26,493.89 A43.4,43.4 0 0 0 387.87,495.36 Z" fill="#fbc4b0"/>
<path d="M393.66,489.13 A48.0,48.0 0 0 1 398.66,488.52 L398.98,493.11 A43.4,43.4 0 0 0 394.46,493.66 Z" fill="#fde6dc"/>
<path d="M399.77,488.45 A48.0,48.0 0 0 1 404.80,488.48 L404.53,493.07 A43.4,43.4 0 0 0 399.98,493.05 Z" fill="#fde6dc"/>
<path d="M405.91,488.56 A48.0,48.0 0 0 1 410.90,489.23 L410.04,493.75 A43.4,43.4 0 0 0 405.53,493.14 Z" fill="#fde6dc"/>
<path d="M357.50,554.38 A48.0,48.0 0 0 1 355.64,548.85 L360.08,547.65 A43.4,43.4 0 0 0 361.76,552.66 Z" fill="#f06040"/>
<path d="M355.33,547.61 A48.0,48.0 0 0 1 354.31,541.86 L358.88,541.34 A43.4,43.4 0 0 0 359.80,546.53 Z" fill="#f06040"/>
<path d="M378.00,577.97 A48.0,48.0 0 0 1 373.68,575.16 L376.40,571.44 A43.4,43.4 0 0 0 380.30,573.99 Z" fill="#f05838"/>
<path d="M372.78,574.48 A48.0,48.0 0 0 1 368.87,571.13 L372.04,567.80 A43.4,43.4 0 0 0 375.58,570.83 Z" fill="#f05838"/>
<path d="M410.34,583.67 A48.0,48.0 0 0 1 404.54,584.33 L404.29,579.74 A43.4,43.4 0 0 0 409.54,579.14 Z" fill="#f04028"/>
<path d="M403.26,584.38 A48.0,48.0 0 0 1 397.42,584.18 L397.86,579.60 A43.4,43.4 0 0 0 403.14,579.79 Z" fill="#f04028"/>
<path d="M438.77,567.25 A48.0,48.0 0 0 1 435.99,570.29 L432.73,567.05 A43.4,43.4 0 0 0 435.25,564.30 Z" fill="#f07050"/>
<path d="M435.34,570.93 A48.0,48.0 0 0 1 432.26,573.66 L429.36,570.09 A43.4,43.4 0 0 0 432.15,567.62 Z" fill="#f07050"/>
<path d="M449.82,540.58 A48.0,48.0 0 0 1 449.09,545.68 L444.58,544.79 A43.4,43.4 0 0 0 445.23,540.18 Z" fill="#dcdcdc"/>
<path d="M448.86,546.79 A48.0,48.0 0 0 1 447.48,551.75 L443.12,550.28 A43.4,43.4 0 0 0 444.37,545.79 Z" fill="#dcdcdc"/>
<path d="M447.11,552.82 A48.0,48.0 0 0 1 445.09,557.55 L440.96,555.53 A43.4,43.4 0 0 0 442.78,551.24 Z" fill="#dcdcdc"/>
<path d="M444.58,558.56 A48.0,48.0 0 0 1 441.96,563.00 L438.13,560.45 A43.4,43.4 0 0 0 440.50,556.44 Z" fill="#dcdcdc"/>
<path d="M355.64,523.98 A48.0,48.0 0 0 1 357.88,517.49 L362.11,519.30 A43.4,43.4 0 0 0 360.08,525.17 Z" fill="#f0f2f4"/>
<path d="M358.50,516.11 A48.0,48.0 0 0 1 361.84,510.12 L365.68,512.64 A43.4,43.4 0 0 0 362.67,518.06 Z" fill="#f0f2f4"/>
<path d="M426.00,494.83 A48.0,48.0 0 0 1 428.42,496.33 L425.89,500.17 A43.4,43.4 0 0 0 423.70,498.81 Z" fill="#f8a088"/>
<path d="M431.74,498.72 A48.0,48.0 0 0 1 433.92,500.55 L430.86,503.99 A43.4,43.4 0 0 0 428.89,502.33 Z" fill="#fde0d4"/>
<path d="M436.86,503.40 A48.0,48.0 0 0 1 438.75,505.53 L435.23,508.48 A43.4,43.4 0 0 0 433.52,506.56 Z" fill="#f07050"/>
<path d="M441.25,508.77 A48.0,48.0 0 0 1 442.82,511.14 L438.91,513.57 A43.4,43.4 0 0 0 437.49,511.42 Z" fill="#fcd0c0"/>
<path d="M444.82,514.72 A48.0,48.0 0 0 1 446.03,517.29 L441.81,519.12 A43.4,43.4 0 0 0 440.72,516.79 Z" fill="#f8a088"/>
<path d="M447.50,521.11 A48.0,48.0 0 0 1 448.33,523.84 L443.89,525.04 A43.4,43.4 0 0 0 443.14,522.58 Z" fill="#fde0d4"/>
<path d="M449.23,527.83 A48.0,48.0 0 0 1 449.65,530.64 L445.09,531.19 A43.4,43.4 0 0 0 444.70,528.65 Z" fill="#f8876a"/>
<use href="#pu25" transform="translate(402.0,536.4)"/>
<use href="#inr" transform="translate(402.0,536.4)"/>
<line x1="31.00" y1="85.20" x2="73.90" y2="62.00" stroke="#e9e9e9" stroke-width="0.35"/>
<line x1="73.90" y1="62.00" x2="141.40" y2="73.80" stroke="#e9e9e9" stroke-width="0.35"/>
<line x1="31.00" y1="76.48" x2="73.90" y2="54.68" stroke="#e9e9e9" stroke-width="0.35"/>
<line x1="73.90" y1="54.68" x2="141.40" y2="65.33" stroke="#e9e9e9" stroke-width="0.35"/>
<line x1="31.00" y1="67.77" x2="73.90" y2="47.37" stroke="#e9e9e9" stroke-width="0.35"/>
<line x1="73.90" y1="47.37" x2="141.40" y2="56.87" stroke="#e9e9e9" stroke-width="0.35"/>
<line x1="31.00" y1="59.05" x2="73.90" y2="40.05" stroke="#e9e9e9" stroke-width="0.35"/>
<line x1="73.90" y1="40.05" x2="141.40" y2="48.40" stroke="#e9e9e9" stroke-width="0.35"/>
<line x1="31.00" y1="50.33" x2="73.90" y2="32.73" stroke="#e9e9e9" stroke-width="0.35"/>
<line x1="73.90" y1="32.73" x2="141.40" y2="39.93" stroke="#e9e9e9" stroke-width="0.35"/>
<line x1="31.00" y1="41.62" x2="73.90" y2="25.42" stroke="#e9e9e9" stroke-width="0.35"/>
<line x1="73.90" y1="25.42" x2="141.40" y2="31.47" stroke="#e9e9e9" stroke-width="0.35"/>
<line x1="31.00" y1="32.90" x2="73.90" y2="18.10" stroke="#e9e9e9" stroke-width="0.35"/>
<line x1="73.90" y1="18.10" x2="141.40" y2="23.00" stroke="#e9e9e9" stroke-width="0.35"/>
<line x1="31.00" y1="85.20" x2="31.00" y2="32.90" stroke="#e9e9e9" stroke-width="0.35"/>
<line x1="45.30" y1="77.47" x2="45.30" y2="27.97" stroke="#e9e9e9" stroke-width="0.35"/>
<line x1="59.60" y1="69.73" x2="59.60" y2="23.03" stroke="#e9e9e9" stroke-width="0.35"/>
<line x1="73.90" y1="62.00" x2="73.90" y2="18.10" stroke="#e9e9e9" stroke-width="0.35"/>
<line x1="87.40" y1="64.36" x2="87.40" y2="19.08" stroke="#e9e9e9" stroke-width="0.35"/>
<line x1="100.90" y1="66.72" x2="100.90" y2="20.06" stroke="#e9e9e9" stroke-width="0.35"/>
<line x1="114.40" y1="69.08" x2="114.40" y2="21.04" stroke="#e9e9e9" stroke-width="0.35"/>
<line x1="127.90" y1="71.44" x2="127.90" y2="22.02" stroke="#e9e9e9" stroke-width="0.35"/>
<line x1="141.40" y1="73.80" x2="141.40" y2="23.00" stroke="#e9e9e9" stroke-width="0.35"/>
<text x="26.30" y="86.50" font-size="3.6" text-anchor="end" fill="#444">0</text>
<text x="26.30" y="77.87" font-size="3.6" text-anchor="end" fill="#444">10</text>
<text x="26.30" y="69.23" font-size="3.6" text-anchor="end" fill="#444">20</text>
<text x="26.30" y="60.60" font-size="3.6" text-anchor="end" fill="#444">30</text>
<text x="26.30" y="51.97" font-size="3.6" text-anchor="end" fill="#444">40</text>
<text x="26.30" y="43.33" font-size="3.6" text-anchor="end" fill="#444">50</text>
<text x="26.30" y="34.70" font-size="3.6" text-anchor="end" fill="#444">60</text>
<text x="18.60" y="59.00" font-size="4.6" text-anchor="middle" fill="#333" transform="rotate(-90 18.6 59)">HSA score</text>
<defs><linearGradient id="g1" gradientUnits="userSpaceOnUse" x1="84.00" y1="47.00" x2="90.00" y2="104.00"><stop offset="0.000" stop-color="#1a6cbc"/><stop offset="0.500" stop-color="#1660ac"/><stop offset="1.000" stop-color="#124c94"/></linearGradient></defs>
<polygon points="30.10,85.50 40.00,79.50 46.80,73.20 53.00,67.50 59.10,62.70 64.00,57.50 70.00,53.20 78.00,51.00 84.00,47.20 89.00,49.50 96.00,56.50 103.00,60.50 110.50,63.80 125.00,68.20 137.80,72.70 103.60,103.10" fill="url(#g1)"/>
<defs><linearGradient id="g2" gradientUnits="userSpaceOnUse" x1="56.00" y1="64.00" x2="52.00" y2="96.00"><stop offset="0.000" stop-color="#1656a2"/><stop offset="0.500" stop-color="#124a90"/><stop offset="1.000" stop-color="#0f4082"/></linearGradient></defs>
<polygon points="30.10,85.50 40.00,79.50 46.80,73.20 53.00,67.50 59.10,62.70 62.00,70.00 70.00,80.00 80.00,90.00 103.60,103.10" fill="url(#g2)"/>
<defs><linearGradient id="g3" gradientUnits="userSpaceOnUse" x1="78.00" y1="50.00" x2="66.00" y2="70.00"><stop offset="0.000" stop-color="#1a70b8"/><stop offset="1.000" stop-color="#1862ac"/></linearGradient></defs>
<polygon points="59.10,62.70 64.00,57.50 70.00,53.20 78.00,51.00 84.00,47.20 82.00,57.00 78.00,66.00 62.00,70.00" fill="url(#g3)"/>
<defs><linearGradient id="g4" gradientUnits="userSpaceOnUse" x1="90.00" y1="50.00" x2="88.00" y2="76.00"><stop offset="0.000" stop-color="#1b76be"/><stop offset="1.000" stop-color="#1864b0"/></linearGradient></defs>
<polygon points="84.00,47.20 89.00,49.50 96.00,56.50 100.00,68.00 90.00,76.00 78.00,66.00 82.00,57.00" fill="url(#g4)"/>
<defs><linearGradient id="g5" gradientUnits="userSpaceOnUse" x1="115.00" y1="62.00" x2="115.00" y2="80.00"><stop offset="0.000" stop-color="#1a6cb8"/><stop offset="1.000" stop-color="#1660ac"/></linearGradient></defs>
<polygon points="96.00,56.50 103.00,60.50 110.50,63.80 125.00,68.20 137.80,72.70 112.00,80.00 100.00,68.00" fill="url(#g5)"/>
<defs><linearGradient id="g6" gradientUnits="userSpaceOnUse" x1="100.00" y1="70.00" x2="100.00" y2="103.00"><stop offset="0.000" stop-color="#1660ac"/><stop offset="0.500" stop-color="#1454a0"/><stop offset="1.000" stop-color="#114a90"/></linearGradient></defs>
<polygon points="62.00,70.00 78.00,66.00 90.00,76.00 100.00,68.00 112.00,80.00 137.80,72.70 103.60,103.10 80.00,90.00 70.00,80.00" fill="url(#g6)"/>
<polygon points="80.50,48.80 84.00,47.20 87.00,48.90 84.00,50.50" fill="#22a6b4"/>
<line x1="189.50" y1="85.20" x2="232.70" y2="62.00" stroke="#e9e9e9" stroke-width="0.35"/>
<line x1="232.70" y1="62.00" x2="300.20" y2="73.20" stroke="#e9e9e9" stroke-width="0.35"/>
<line x1="189.50" y1="76.48" x2="232.70" y2="54.68" stroke="#e9e9e9" stroke-width="0.35"/>
<line x1="232.70" y1="54.68" x2="300.20" y2="64.83" stroke="#e9e9e9" stroke-width="0.35"/>
<line x1="189.50" y1="67.77" x2="232.70" y2="47.37" stroke="#e9e9e9" stroke-width="0.35"/>
<line x1="232.70" y1="47.37" x2="300.20" y2="56.47" stroke="#e9e9e9" stroke-width="0.35"/>
<line x1="189.50" y1="59.05" x2="232.70" y2="40.05" stroke="#e9e9e9" stroke-width="0.35"/>
<line x1="232.70" y1="40.05" x2="300.20" y2="48.10" stroke="#e9e9e9" stroke-width="0.35"/>
<line x1="189.50" y1="50.33" x2="232.70" y2="32.73" stroke="#e9e9e9" stroke-width="0.35"/>
<line x1="232.70" y1="32.73" x2="300.20" y2="39.73" stroke="#e9e9e9" stroke-width="0.35"/>
<line x1="189.50" y1="41.62" x2="232.70" y2="25.42" stroke="#e9e9e9" stroke-width="0.35"/>
<line x1="232.70" y1="25.42" x2="300.20" y2="31.37" stroke="#e9e9e9" stroke-width="0.35"/>
<line x1="189.50" y1="32.90" x2="232.70" y2="18.10" stroke="#e9e9e9" stroke-width="0.35"/>
<line x1="232.70" y1="18.10" x2="300.20" y2="23.00" stroke="#e9e9e9" stroke-width="0.35"/>
<line x1="189.50" y1="85.20" x2="189.50" y2="32.90" stroke="#e9e9e9" stroke-width="0.35"/>
<line x1="203.90" y1="77.47" x2="203.90" y2="27.97" stroke="#e9e9e9" stroke-width="0.35"/>
<line x1="218.30" y1="69.73" x2="218.30" y2="23.03" stroke="#e9e9e9" stroke-width="0.35"/>
<line x1="232.70" y1="62.00" x2="232.70" y2="18.10" stroke="#e9e9e9" stroke-width="0.35"/>
<line x1="246.20" y1="64.24" x2="246.20" y2="19.08" stroke="#e9e9e9" stroke-width="0.35"/>
<line x1="259.70" y1="66.48" x2="259.70" y2="20.06" stroke="#e9e9e9" stroke-width="0.35"/>
<line x1="273.20" y1="68.72" x2="273.20" y2="21.04" stroke="#e9e9e9" stroke-width="0.35"/>
<line x1="286.70" y1="70.96" x2="286.70" y2="22.02" stroke="#e9e9e9" stroke-width="0.35"/>
<line x1="300.20" y1="73.20" x2="300.20" y2="23.00" stroke="#e9e9e9" stroke-width="0.35"/>
<text x="185.00" y="86.50" font-size="3.6" text-anchor="end" fill="#444">0</text>
<text x="185.00" y="77.87" font-size="3.6" text-anchor="end" fill="#444">10</text>
<text x="185.00" y="69.23" font-size="3.6" text-anchor="end" fill="#444">20</text>
<text x="185.00" y="60.60" font-size="3.6" text-anchor="end" fill="#444">30</text>
<text x="185.00" y="51.97" font-size="3.6" text-anchor="end" fill="#444">40</text>
<text x="185.00" y="43.33" font-size="3.6" text-anchor="end" fill="#444">50</text>
<text x="185.00" y="34.70" font-size="3.6" text-anchor="end" fill="#444">60</text>
<defs><linearGradient id="g7" gradientUnits="userSpaceOnUse" x1="250.00" y1="50.00" x2="250.00" y2="104.00"><stop offset="0.000" stop-color="#1868b4"/><stop offset="1.000" stop-color="#114a90"/></linearGradient></defs>
<polygon points="189.40,84.70 198.10,77.10 209.00,70.50 217.70,67.30 227.50,61.80 231.90,54.20 237.40,53.10 245.00,52.00 257.00,47.60 262.50,52.00 270.10,57.50 278.80,65.10 287.60,70.50 297.40,72.70 263.50,105.50" fill="url(#g7)"/>
<defs><linearGradient id="g8" gradientUnits="userSpaceOnUse" x1="210.00" y1="66.00" x2="215.00" y2="100.00"><stop offset="0.000" stop-color="#134e96"/><stop offset="1.000" stop-color="#0f4284"/></linearGradient></defs>
<polygon points="189.40,84.70 198.10,77.10 209.00,70.50 217.70,67.30 227.50,61.80 226.50,64.00 231.90,94.50 263.50,105.50" fill="url(#g8)"/>
<polygon points="206.80,80.40 226.00,79.50 231.50,93.50 216.00,91.00" fill="#0c3468"/>
<defs><linearGradient id="g9" gradientUnits="userSpaceOnUse" x1="232.00" y1="54.00" x2="234.00" y2="68.00"><stop offset="0.000" stop-color="#124a8e"/><stop offset="1.000" stop-color="#0f4284"/></linearGradient></defs>
<polygon points="227.50,61.80 231.90,54.20 237.40,53.10 240.40,61.80 241.70,64.00 236.00,68.00 226.50,64.00" fill="url(#g9)"/>
<defs><linearGradient id="g10" gradientUnits="userSpaceOnUse" x1="256.00" y1="48.00" x2="242.00" y2="63.00"><stop offset="0.000" stop-color="#24b4b0"/><stop offset="0.600" stop-color="#1a94b4"/><stop offset="1.000" stop-color="#1a78b8"/></linearGradient></defs>
<polygon points="237.40,53.10 245.00,52.00 257.00,47.60 262.50,52.00 250.50,57.50 241.70,64.00 240.40,61.80" fill="url(#g10)"/>
<defs><linearGradient id="g11" gradientUnits="userSpaceOnUse" x1="262.00" y1="52.00" x2="262.00" y2="100.00"><stop offset="0.000" stop-color="#1a70ba"/><stop offset="0.500" stop-color="#1664b0"/><stop offset="1.000" stop-color="#1356a2"/></linearGradient></defs>
<polygon points="257.00,47.60 262.50,52.00 270.10,57.50 278.80,65.10 287.60,70.50 297.40,72.70 263.50,105.50 240.60,76.00 241.70,64.00 250.50,57.50" fill="url(#g11)"/>
<defs><linearGradient id="g12" gradientUnits="userSpaceOnUse" x1="285.00" y1="73.00" x2="265.00" y2="103.00"><stop offset="0.000" stop-color="#1458a2"/><stop offset="1.000" stop-color="#10468a"/></linearGradient></defs>
<polygon points="272.00,72.70 297.40,72.70 263.50,105.50 258.00,86.00" fill="url(#g12)"/>
<defs><linearGradient id="g13" gradientUnits="userSpaceOnUse" x1="232.00" y1="64.00" x2="232.00" y2="94.00"><stop offset="0.000" stop-color="#5e90cc"/><stop offset="1.000" stop-color="#3e74b8"/></linearGradient></defs>
<polygon points="226.50,64.00 236.00,68.00 240.60,76.00 231.90,94.50" fill="url(#g13)"/>
<polygon points="236.00,68.00 241.70,64.00 240.60,76.00" fill="#2a70b8"/>
<line x1="348.50" y1="85.50" x2="391.00" y2="62.00" stroke="#e9e9e9" stroke-width="0.35"/>
<line x1="391.00" y1="62.00" x2="458.00" y2="68.00" stroke="#e9e9e9" stroke-width="0.35"/>
<line x1="348.50" y1="78.00" x2="391.00" y2="55.73" stroke="#e9e9e9" stroke-width="0.35"/>
<line x1="391.00" y1="55.73" x2="458.00" y2="61.57" stroke="#e9e9e9" stroke-width="0.35"/>
<line x1="348.50" y1="70.50" x2="391.00" y2="49.46" stroke="#e9e9e9" stroke-width="0.35"/>
<line x1="391.00" y1="49.46" x2="458.00" y2="55.14" stroke="#e9e9e9" stroke-width="0.35"/>
<line x1="348.50" y1="63.00" x2="391.00" y2="43.19" stroke="#e9e9e9" stroke-width="0.35"/>
<line x1="391.00" y1="43.19" x2="458.00" y2="48.71" stroke="#e9e9e9" stroke-width="0.35"/>
<line x1="348.50" y1="55.50" x2="391.00" y2="36.91" stroke="#e9e9e9" stroke-width="0.35"/>
<line x1="391.00" y1="36.91" x2="458.00" y2="42.29" stroke="#e9e9e9" stroke-width="0.35"/>
<line x1="348.50" y1="48.00" x2="391.00" y2="30.64" stroke="#e9e9e9" stroke-width="0.35"/>
<line x1="391.00" y1="30.64" x2="458.00" y2="35.86" stroke="#e9e9e9" stroke-width="0.35"/>
<line x1="348.50" y1="40.50" x2="391.00" y2="24.37" stroke="#e9e9e9" stroke-width="0.35"/>
<line x1="391.00" y1="24.37" x2="458.00" y2="29.43" stroke="#e9e9e9" stroke-width="0.35"/>
<line x1="348.50" y1="33.00" x2="391.00" y2="18.10" stroke="#e9e9e9" stroke-width="0.35"/>
<line x1="391.00" y1="18.10" x2="458.00" y2="23.00" stroke="#e9e9e9" stroke-width="0.35"/>
<line x1="348.50" y1="85.50" x2="348.50" y2="33.00" stroke="#e9e9e9" stroke-width="0.35"/>
<line x1="362.67" y1="77.67" x2="362.67" y2="28.03" stroke="#e9e9e9" stroke-width="0.35"/>
<line x1="376.83" y1="69.83" x2="376.83" y2="23.07" stroke="#e9e9e9" stroke-width="0.35"/>
<line x1="391.00" y1="62.00" x2="391.00" y2="18.10" stroke="#e9e9e9" stroke-width="0.35"/>
<line x1="404.40" y1="63.20" x2="404.40" y2="19.08" stroke="#e9e9e9" stroke-width="0.35"/>
<line x1="417.80" y1="64.40" x2="417.80" y2="20.06" stroke="#e9e9e9" stroke-width="0.35"/>
<line x1="431.20" y1="65.60" x2="431.20" y2="21.04" stroke="#e9e9e9" stroke-width="0.35"/>
<line x1="444.60" y1="66.80" x2="444.60" y2="22.02" stroke="#e9e9e9" stroke-width="0.35"/>
<line x1="458.00" y1="68.00" x2="458.00" y2="23.00" stroke="#e9e9e9" stroke-width="0.35"/>
<text x="344.50" y="86.80" font-size="3.6" text-anchor="end" fill="#444">−10</text>
<text x="344.50" y="79.37" font-size="3.6" text-anchor="end" fill="#444">0</text>
<text x="344.50" y="71.94" font-size="3.6" text-anchor="end" fill="#444">10</text>
<text x="344.50" y="64.51" font-size="3.6" text-anchor="end" fill="#444">20</text>
<text x="344.50" y="57.09" font-size="3.6" text-anchor="end" fill="#444">30</text>
<text x="344.50" y="49.66" font-size="3.6" text-anchor="end" fill="#444">40</text>
<text x="344.50" y="42.23" font-size="3.6" text-anchor="end" fill="#444">50</text>
<text x="344.50" y="34.80" font-size="3.6" text-anchor="end" fill="#444">60</text>
<defs><linearGradient id="g14" gradientUnits="userSpaceOnUse" x1="400.00" y1="50.00" x2="400.00" y2="95.00"><stop offset="0.000" stop-color="#15569e"/><stop offset="1.000" stop-color="#0f4080"/></linearGradient></defs>
<polygon points="349.00,76.80 357.70,60.70 368.40,54.80 379.00,47.00 384.90,53.60 390.80,49.40 397.90,52.50 408.60,59.60 418.00,63.10 441.70,62.60 455.80,66.60 455.80,68.20 421.60,95.50 349.00,78.80" fill="url(#g14)"/>
<defs><linearGradient id="g15" gradientUnits="userSpaceOnUse" x1="362.00" y1="58.00" x2="368.00" y2="90.00"><stop offset="0.000" stop-color="#1552a0"/><stop offset="0.500" stop-color="#114688"/><stop offset="1.000" stop-color="#0d3874"/></linearGradient></defs>
<polygon points="349.00,76.80 357.70,60.70 368.40,54.80 372.00,63.00 376.00,80.00 421.60,95.50 349.00,78.80" fill="url(#g15)"/>
<polygon points="357.70,60.70 368.40,54.80 372.00,63.00 361.00,66.50" fill="#1864b0"/>
<defs><linearGradient id="g16" gradientUnits="userSpaceOnUse" x1="379.00" y1="47.00" x2="377.00" y2="66.00"><stop offset="0.000" stop-color="#34d0d0"/><stop offset="0.500" stop-color="#1ea8c8"/><stop offset="1.000" stop-color="#1a7cc0"/></linearGradient></defs>
<polygon points="368.40,54.80 379.00,47.00 384.90,53.60 381.00,67.00 372.00,63.00" fill="url(#g16)"/>
<defs><linearGradient id="g17" gradientUnits="userSpaceOnUse" x1="378.00" y1="64.00" x2="380.00" y2="82.00"><stop offset="0.000" stop-color="#1a70bc"/><stop offset="1.000" stop-color="#1660ac"/></linearGradient></defs>
<polygon points="372.00,63.00 381.00,67.00 387.00,82.00 376.00,80.00" fill="url(#g17)"/>
<polygon points="384.90,53.60 390.80,49.40 397.90,52.50 395.00,60.00 388.00,62.00" fill="#134e96"/>
<defs><linearGradient id="g18" gradientUnits="userSpaceOnUse" x1="395.00" y1="54.00" x2="392.00" y2="78.00"><stop offset="0.000" stop-color="#1a70bc"/><stop offset="1.000" stop-color="#1762b0"/></linearGradient></defs>
<polygon points="381.00,67.00 384.90,53.60 388.00,62.00 395.00,60.00 397.90,52.50 408.60,59.60 402.00,70.00 392.00,73.00 387.00,82.00" fill="url(#g18)"/>
<defs><linearGradient id="g19" gradientUnits="userSpaceOnUse" x1="412.00" y1="62.00" x2="402.00" y2="80.00"><stop offset="0.000" stop-color="#8e90aa"/><stop offset="0.500" stop-color="#72779a"/><stop offset="1.000" stop-color="#4e6096"/></linearGradient></defs>
<polygon points="392.00,73.00 402.00,70.00 408.60,59.60 418.00,63.10 428.00,66.00 412.00,76.00 396.00,81.00" fill="url(#g19)"/>
<defs><linearGradient id="g20" gradientUnits="userSpaceOnUse" x1="440.00" y1="63.00" x2="430.00" y2="72.00"><stop offset="0.000" stop-color="#1a5ca6"/><stop offset="1.000" stop-color="#15529c"/></linearGradient></defs>
<polygon points="418.00,63.10 441.70,62.60 455.80,66.60 432.00,72.00 412.00,76.00 428.00,66.00" fill="url(#g20)"/>
<defs><linearGradient id="g21" gradientUnits="userSpaceOnUse" x1="440.00" y1="70.00" x2="420.00" y2="93.00"><stop offset="0.000" stop-color="#114886"/><stop offset="1.000" stop-color="#0d3a74"/></linearGradient></defs>
<polygon points="455.80,66.60 455.80,68.20 421.60,95.50 387.00,82.00 396.00,81.00 412.00,76.00 432.00,72.00" fill="url(#g21)"/>
<polygon points="349.00,76.80 421.60,93.60 421.60,95.50 349.00,78.80" fill="#0c3266"/>
<line x1="29.50" y1="199.90" x2="73.20" y2="176.00" stroke="#e9e9e9" stroke-width="0.35"/>
<line x1="73.20" y1="176.00" x2="142.00" y2="188.60" stroke="#e9e9e9" stroke-width="0.35"/>
<line x1="29.50" y1="190.92" x2="73.20" y2="168.43" stroke="#e9e9e9" stroke-width="0.35"/>
<line x1="73.20" y1="168.43" x2="142.00" y2="180.63" stroke="#e9e9e9" stroke-width="0.35"/>
<line x1="29.50" y1="181.93" x2="73.20" y2="160.87" stroke="#e9e9e9" stroke-width="0.35"/>
<line x1="73.20" y1="160.87" x2="142.00" y2="172.67" stroke="#e9e9e9" stroke-width="0.35"/>
<line x1="29.50" y1="172.95" x2="73.20" y2="153.30" stroke="#e9e9e9" stroke-width="0.35"/>
<line x1="73.20" y1="153.30" x2="142.00" y2="164.70" stroke="#e9e9e9" stroke-width="0.35"/>
<line x1="29.50" y1="163.97" x2="73.20" y2="145.73" stroke="#e9e9e9" stroke-width="0.35"/>
<line x1="73.20" y1="145.73" x2="142.00" y2="156.73" stroke="#e9e9e9" stroke-width="0.35"/>
<line x1="29.50" y1="154.98" x2="73.20" y2="138.17" stroke="#e9e9e9" stroke-width="0.35"/>
<line x1="73.20" y1="138.17" x2="142.00" y2="148.77" stroke="#e9e9e9" stroke-width="0.35"/>
<line x1="29.50" y1="146.00" x2="73.20" y2="130.60" stroke="#e9e9e9" stroke-width="0.35"/>
<line x1="73.20" y1="130.60" x2="142.00" y2="140.80" stroke="#e9e9e9" stroke-width="0.35"/>
<line x1="29.50" y1="199.90" x2="29.50" y2="146.00" stroke="#e9e9e9" stroke-width="0.35"/>
<line x1="44.07" y1="191.93" x2="44.07" y2="140.87" stroke="#e9e9e9" stroke-width="0.35"/>
<line x1="58.63" y1="183.97" x2="58.63" y2="135.73" stroke="#e9e9e9" stroke-width="0.35"/>
<line x1="73.20" y1="176.00" x2="73.20" y2="130.60" stroke="#e9e9e9" stroke-width="0.35"/>
<line x1="86.96" y1="178.52" x2="86.96" y2="132.64" stroke="#e9e9e9" stroke-width="0.35"/>
<line x1="100.72" y1="181.04" x2="100.72" y2="134.68" stroke="#e9e9e9" stroke-width="0.35"/>
<line x1="114.48" y1="183.56" x2="114.48" y2="136.72" stroke="#e9e9e9" stroke-width="0.35"/>
<line x1="128.24" y1="186.08" x2="128.24" y2="138.76" stroke="#e9e9e9" stroke-width="0.35"/>
<line x1="142.00" y1="188.60" x2="142.00" y2="140.80" stroke="#e9e9e9" stroke-width="0.35"/>
<text x="25.30" y="201.20" font-size="3.6" text-anchor="end" fill="#444">0</text>
<text x="25.30" y="192.53" font-size="3.6" text-anchor="end" fill="#444">10</text>
<text x="25.30" y="183.87" font-size="3.6" text-anchor="end" fill="#444">20</text>
<text x="25.30" y="175.20" font-size="3.6" text-anchor="end" fill="#444">30</text>
<text x="25.30" y="166.53" font-size="3.6" text-anchor="end" fill="#444">40</text>
<text x="25.30" y="157.87" font-size="3.6" text-anchor="end" fill="#444">50</text>
<text x="25.30" y="149.20" font-size="3.6" text-anchor="end" fill="#444">60</text>
<defs><linearGradient id="g22" gradientUnits="userSpaceOnUse" x1="90.00" y1="160.00" x2="95.00" y2="215.00"><stop offset="0.000" stop-color="#1a70b8"/><stop offset="1.000" stop-color="#0f4486"/></linearGradient></defs>
<polygon points="30.60,200.40 31.80,190.90 40.10,177.90 55.50,173.20 67.30,163.70 73.20,155.00 86.20,154.30 90.90,157.80 100.40,169.60 109.80,176.70 126.40,182.60 139.40,188.60 107.50,218.10" fill="url(#g22)"/>
<defs><linearGradient id="g23" gradientUnits="userSpaceOnUse" x1="52.00" y1="178.00" x2="47.00" y2="214.00"><stop offset="0.000" stop-color="#1862aa"/><stop offset="0.380" stop-color="#1862aa"/><stop offset="0.380" stop-color="#12529a"/><stop offset="0.560" stop-color="#12529a"/><stop offset="0.560" stop-color="#0f4384"/><stop offset="0.780" stop-color="#0f4384"/><stop offset="0.780" stop-color="#0b3162"/><stop offset="1.000" stop-color="#0b3162"/></linearGradient></defs>
<polygon points="30.60,200.40 31.80,190.90 40.10,177.90 68.50,181.00 74.00,211.00 107.50,218.10" fill="url(#g23)"/>
<defs><linearGradient id="g24" gradientUnits="userSpaceOnUse" x1="80.00" y1="154.00" x2="78.00" y2="186.00"><stop offset="0.000" stop-color="#26c0a8"/><stop offset="0.300" stop-color="#1ea6aa"/><stop offset="0.600" stop-color="#1a88b4"/><stop offset="1.000" stop-color="#1670b4"/></linearGradient></defs>
<polygon points="40.10,177.90 55.50,173.20 67.30,163.70 73.20,155.00 86.20,154.30 90.90,157.80 100.40,169.60 82.00,187.50 68.50,181.00" fill="url(#g24)"/>
<polygon points="73.20,155.00 86.20,154.30 84.00,157.50 76.00,157.50" fill="#2ad0a0"/>
<defs><linearGradient id="g25" gradientUnits="userSpaceOnUse" x1="110.00" y1="172.00" x2="108.00" y2="192.00"><stop offset="0.000" stop-color="#1a6cb6"/><stop offset="1.000" stop-color="#1560aa"/></linearGradient></defs>
<polygon points="100.40,169.60 109.80,176.70 126.40,182.60 139.40,188.60 122.00,192.00 82.00,187.50" fill="url(#g25)"/>
<defs><linearGradient id="g26" gradientUnits="userSpaceOnUse" x1="110.00" y1="190.00" x2="100.00" y2="216.00"><stop offset="0.000" stop-color="#1458a2"/><stop offset="0.500" stop-color="#114d94"/><stop offset="1.000" stop-color="#0f4486"/></linearGradient></defs>
<polygon points="82.00,187.50 122.00,192.00 139.40,188.60 107.50,218.10 74.00,211.00" fill="url(#g26)"/>
<defs><linearGradient id="g27" gradientUnits="userSpaceOnUse" x1="72.00" y1="182.00" x2="73.00" y2="210.00"><stop offset="0.000" stop-color="#4e82c2"/><stop offset="1.000" stop-color="#3a6cb0"/></linearGradient></defs>
<polygon points="68.50,181.00 75.50,184.50 74.00,211.00" fill="url(#g27)"/>
<polygon points="75.50,184.50 82.00,187.50 74.00,211.00" fill="#154f96"/>
<line x1="188.50" y1="199.90" x2="232.20" y2="176.00" stroke="#e9e9e9" stroke-width="0.35"/>
<line x1="232.20" y1="176.00" x2="301.00" y2="188.60" stroke="#e9e9e9" stroke-width="0.35"/>
<line x1="188.50" y1="190.92" x2="232.20" y2="168.43" stroke="#e9e9e9" stroke-width="0.35"/>
<line x1="232.20" y1="168.43" x2="301.00" y2="180.63" stroke="#e9e9e9" stroke-width="0.35"/>
<line x1="188.50" y1="181.93" x2="232.20" y2="160.87" stroke="#e9e9e9" stroke-width="0.35"/>
<line x1="232.20" y1="160.87" x2="301.00" y2="172.67" stroke="#e9e9e9" stroke-width="0.35"/>
<line x1="188.50" y1="172.95" x2="232.20" y2="153.30" stroke="#e9e9e9" stroke-width="0.35"/>
<line x1="232.20" y1="153.30" x2="301.00" y2="164.70" stroke="#e9e9e9" stroke-width="0.35"/>
<line x1="188.50" y1="163.97" x2="232.20" y2="145.73" stroke="#e9e9e9" stroke-width="0.35"/>
<line x1="232.20" y1="145.73" x2="301.00" y2="156.73" stroke="#e9e9e9" stroke-width="0.35"/>
<line x1="188.50" y1="154.98" x2="232.20" y2="138.17" stroke="#e9e9e9" stroke-width="0.35"/>
<line x1="232.20" y1="138.17" x2="301.00" y2="148.77" stroke="#e9e9e9" stroke-width="0.35"/>
<line x1="188.50" y1="146.00" x2="232.20" y2="130.60" stroke="#e9e9e9" stroke-width="0.35"/>
<line x1="232.20" y1="130.60" x2="301.00" y2="140.80" stroke="#e9e9e9" stroke-width="0.35"/>
<line x1="188.50" y1="199.90" x2="188.50" y2="146.00" stroke="#e9e9e9" stroke-width="0.35"/>
<line x1="203.07" y1="191.93" x2="203.07" y2="140.87" stroke="#e9e9e9" stroke-width="0.35"/>
<line x1="217.63" y1="183.97" x2="217.63" y2="135.73" stroke="#e9e9e9" stroke-width="0.35"/>
<line x1="232.20" y1="176.00" x2="232.20" y2="130.60" stroke="#e9e9e9" stroke-width="0.35"/>
<line x1="245.96" y1="178.52" x2="245.96" y2="132.64" stroke="#e9e9e9" stroke-width="0.35"/>
<line x1="259.72" y1="181.04" x2="259.72" y2="134.68" stroke="#e9e9e9" stroke-width="0.35"/>
<line x1="273.48" y1="183.56" x2="273.48" y2="136.72" stroke="#e9e9e9" stroke-width="0.35"/>
<line x1="287.24" y1="186.08" x2="287.24" y2="138.76" stroke="#e9e9e9" stroke-width="0.35"/>
<line x1="301.00" y1="188.60" x2="301.00" y2="140.80" stroke="#e9e9e9" stroke-width="0.35"/>
<text x="184.30" y="201.20" font-size="3.6" text-anchor="end" fill="#444">0</text>
<text x="184.30" y="192.53" font-size="3.6" text-anchor="end" fill="#444">10</text>
<text x="184.30" y="183.87" font-size="3.6" text-anchor="end" fill="#444">20</text>
<text x="184.30" y="175.20" font-size="3.6" text-anchor="end" fill="#444">30</text>
<text x="184.30" y="166.53" font-size="3.6" text-anchor="end" fill="#444">40</text>
<text x="184.30" y="157.87" font-size="3.6" text-anchor="end" fill="#444">50</text>
<text x="184.30" y="149.20" font-size="3.6" text-anchor="end" fill="#444">60</text>
<polygon points="189.20,200.20 197.60,164.40 198.70,163.30 211.30,159.10 228.20,153.80 234.50,146.40 245.00,143.30 257.70,146.40 262.00,152.80 270.40,163.30 278.80,173.90 285.20,182.30 295.70,185.50 299.90,188.60 265.10,220.30" fill="#1566b0"/>
<defs><linearGradient id="g28" gradientUnits="userSpaceOnUse" x1="206.50" y1="165.50" x2="197.50" y2="203.50"><stop offset="0.000" stop-color="#1a9488"/><stop offset="0.130" stop-color="#1a9488"/><stop offset="0.130" stop-color="#17709c"/><stop offset="0.300" stop-color="#17709c"/><stop offset="0.300" stop-color="#145c94"/><stop offset="0.480" stop-color="#145c94"/><stop offset="0.480" stop-color="#114a86"/><stop offset="0.660" stop-color="#114a86"/><stop offset="0.660" stop-color="#0e3a72"/><stop offset="0.840" stop-color="#0e3a72"/><stop offset="0.840" stop-color="#0b2b5a"/><stop offset="1.000" stop-color="#0b2b5a"/></linearGradient></defs>
<polygon points="189.20,200.20 197.60,164.40 198.70,163.30 228.50,165.50 228.50,209.40" fill="url(#g28)"/>
<defs><linearGradient id="g29" gradientUnits="userSpaceOnUse" x1="250.00" y1="158.00" x2="241.00" y2="214.00"><stop offset="0.000" stop-color="#30d4a8"/><stop offset="0.150" stop-color="#30d4a8"/><stop offset="0.150" stop-color="#20b4a8"/><stop offset="0.300" stop-color="#20b4a8"/><stop offset="0.300" stop-color="#1a96b0"/><stop offset="0.450" stop-color="#1a96b0"/><stop offset="0.450" stop-color="#1a7eb6"/><stop offset="0.600" stop-color="#1a7eb6"/><stop offset="0.600" stop-color="#166cb0"/><stop offset="0.750" stop-color="#166cb0"/><stop offset="0.750" stop-color="#135aa2"/><stop offset="0.900" stop-color="#135aa2"/><stop offset="0.900" stop-color="#104a90"/><stop offset="1.000" stop-color="#104a90"/></linearGradient></defs>
<polygon points="228.50,165.50 251.00,155.50 262.00,152.80 268.00,162.00 272.00,200.00 265.10,220.30 228.50,209.40" fill="url(#g29)"/>
<defs><linearGradient id="g30" gradientUnits="userSpaceOnUse" x1="272.00" y1="158.00" x2="292.00" y2="205.00"><stop offset="0.000" stop-color="#1a8ab4"/><stop offset="0.200" stop-color="#1a8ab4"/><stop offset="0.200" stop-color="#1a78b4"/><stop offset="0.400" stop-color="#1a78b4"/><stop offset="0.400" stop-color="#1668ae"/><stop offset="0.600" stop-color="#1668ae"/><stop offset="0.600" stop-color="#1358a0"/><stop offset="0.800" stop-color="#1358a0"/><stop offset="0.800" stop-color="#0f4888"/><stop offset="1.000" stop-color="#0f4888"/></linearGradient></defs>
<polygon points="262.00,152.80 270.40,163.30 278.80,173.90 285.20,182.30 295.70,185.50 299.90,188.60 265.10,220.30 272.00,200.00 268.00,162.00" fill="url(#g30)"/>
<defs><linearGradient id="g31" gradientUnits="userSpaceOnUse" x1="295.00" y1="186.00" x2="268.00" y2="218.00"><stop offset="0.000" stop-color="#124c92"/><stop offset="1.000" stop-color="#0e3e7c"/></linearGradient></defs>
<polygon points="285.20,182.30 295.70,185.50 299.90,188.60 265.10,220.30 276.00,196.00" fill="url(#g31)"/>
<defs><linearGradient id="g32" gradientUnits="userSpaceOnUse" x1="205.00" y1="164.00" x2="255.00" y2="148.00"><stop offset="0.000" stop-color="#1a9a8c"/><stop offset="0.450" stop-color="#22b898"/><stop offset="0.750" stop-color="#34d8a4"/><stop offset="1.000" stop-color="#40e0a8"/></linearGradient></defs>
<polygon points="198.70,163.30 211.30,159.10 228.20,153.80 234.50,146.40 245.00,143.30 257.70,146.40 262.00,152.80 251.00,155.50 228.50,165.50" fill="url(#g32)"/>
<defs><linearGradient id="g33" gradientUnits="userSpaceOnUse" x1="232.00" y1="178.00" x2="232.00" y2="210.00"><stop offset="0.000" stop-color="#5088c4"/><stop offset="1.000" stop-color="#3a6cb0"/></linearGradient></defs>
<polygon points="228.60,176.00 236.00,179.50 234.10,210.80 229.50,209.60" fill="url(#g33)"/>
<defs><linearGradient id="g34" gradientUnits="userSpaceOnUse" x1="242.00" y1="188.00" x2="240.00" y2="211.00"><stop offset="0.000" stop-color="#114682"/><stop offset="1.000" stop-color="#0c3468"/></linearGradient></defs>
<polygon points="241.80,187.20 248.50,212.20 234.10,210.80" fill="url(#g34)"/>
<line x1="348.50" y1="198.00" x2="392.00" y2="174.00" stroke="#e9e9e9" stroke-width="0.35"/>
<line x1="392.00" y1="174.00" x2="460.00" y2="185.00" stroke="#e9e9e9" stroke-width="0.35"/>
<line x1="348.50" y1="189.00" x2="392.00" y2="166.43" stroke="#e9e9e9" stroke-width="0.35"/>
<line x1="392.00" y1="166.43" x2="460.00" y2="177.00" stroke="#e9e9e9" stroke-width="0.35"/>
<line x1="348.50" y1="180.00" x2="392.00" y2="158.87" stroke="#e9e9e9" stroke-width="0.35"/>
<line x1="392.00" y1="158.87" x2="460.00" y2="169.00" stroke="#e9e9e9" stroke-width="0.35"/>
<line x1="348.50" y1="171.00" x2="392.00" y2="151.30" stroke="#e9e9e9" stroke-width="0.35"/>
<line x1="392.00" y1="151.30" x2="460.00" y2="161.00" stroke="#e9e9e9" stroke-width="0.35"/>
<line x1="348.50" y1="162.00" x2="392.00" y2="143.73" stroke="#e9e9e9" stroke-width="0.35"/>
<line x1="392.00" y1="143.73" x2="460.00" y2="153.00" stroke="#e9e9e9" stroke-width="0.35"/>
<line x1="348.50" y1="153.00" x2="392.00" y2="136.17" stroke="#e9e9e9" stroke-width="0.35"/>
<line x1="392.00" y1="136.17" x2="460.00" y2="145.00" stroke="#e9e9e9" stroke-width="0.35"/>
<line x1="348.50" y1="144.00" x2="392.00" y2="128.60" stroke="#e9e9e9" stroke-width="0.35"/>
<line x1="392.00" y1="128.60" x2="460.00" y2="137.00" stroke="#e9e9e9" stroke-width="0.35"/>
<line x1="348.50" y1="198.00" x2="348.50" y2="144.00" stroke="#e9e9e9" stroke-width="0.35"/>
<line x1="363.00" y1="190.00" x2="363.00" y2="138.87" stroke="#e9e9e9" stroke-width="0.35"/>
<line x1="377.50" y1="182.00" x2="377.50" y2="133.73" stroke="#e9e9e9" stroke-width="0.35"/>
<line x1="392.00" y1="174.00" x2="392.00" y2="128.60" stroke="#e9e9e9" stroke-width="0.35"/>
<line x1="405.60" y1="176.20" x2="405.60" y2="130.28" stroke="#e9e9e9" stroke-width="0.35"/>
<line x1="419.20" y1="178.40" x2="419.20" y2="131.96" stroke="#e9e9e9" stroke-width="0.35"/>
<line x1="432.80" y1="180.60" x2="432.80" y2="133.64" stroke="#e9e9e9" stroke-width="0.35"/>
<line x1="446.40" y1="182.80" x2="446.40" y2="135.32" stroke="#e9e9e9" stroke-width="0.35"/>
<line x1="460.00" y1="185.00" x2="460.00" y2="137.00" stroke="#e9e9e9" stroke-width="0.35"/>
<text x="344.30" y="199.30" font-size="3.6" text-anchor="end" fill="#444">0</text>
<text x="344.30" y="190.63" font-size="3.6" text-anchor="end" fill="#444">10</text>
<text x="344.30" y="181.97" font-size="3.6" text-anchor="end" fill="#444">20</text>
<text x="344.30" y="173.30" font-size="3.6" text-anchor="end" fill="#444">30</text>
<text x="344.30" y="164.63" font-size="3.6" text-anchor="end" fill="#444">40</text>
<text x="344.30" y="155.97" font-size="3.6" text-anchor="end" fill="#444">50</text>
<text x="344.30" y="147.30" font-size="3.6" text-anchor="end" fill="#444">60</text>
<polygon points="349.50,198.00 355.40,144.80 363.60,142.50 387.30,136.50 390.80,134.20 400.30,137.70 403.80,140.00 408.60,160.20 413.30,176.70 418.00,178.00 439.30,176.70 458.20,185.00 422.70,216.50" fill="#1358a2"/>
<defs><linearGradient id="g35" gradientUnits="userSpaceOnUse" x1="360.00" y1="143.50" x2="358.00" y2="202.00"><stop offset="0.000" stop-color="#1a9a82"/><stop offset="0.100" stop-color="#1a9a82"/><stop offset="0.100" stop-color="#177c84"/><stop offset="0.270" stop-color="#177c84"/><stop offset="0.270" stop-color="#135f8a"/><stop offset="0.450" stop-color="#135f8a"/><stop offset="0.450" stop-color="#0f4a80"/><stop offset="0.630" stop-color="#0f4a80"/><stop offset="0.630" stop-color="#0c3a6c"/><stop offset="0.820" stop-color="#0c3a6c"/><stop offset="0.820" stop-color="#0a2a52"/><stop offset="1.000" stop-color="#0a2a52"/></linearGradient></defs>
<polygon points="349.50,198.00 355.40,144.80 363.60,143.60 370.70,203.40" fill="url(#g35)"/>
<defs><linearGradient id="g36" gradientUnits="userSpaceOnUse" x1="387.00" y1="140.00" x2="378.00" y2="212.00"><stop offset="0.000" stop-color="#b8ec66"/><stop offset="0.040" stop-color="#b8ec66"/><stop offset="0.040" stop-color="#50e0a0"/><stop offset="0.200" stop-color="#50e0a0"/><stop offset="0.200" stop-color="#2ec29a"/><stop offset="0.340" stop-color="#2ec29a"/><stop offset="0.340" stop-color="#1a9aa2"/><stop offset="0.480" stop-color="#1a9aa2"/><stop offset="0.480" stop-color="#1a74b0"/><stop offset="0.620" stop-color="#1a74b0"/><stop offset="0.620" stop-color="#1662a8"/><stop offset="0.760" stop-color="#1662a8"/><stop offset="0.760" stop-color="#12519a"/><stop offset="0.880" stop-color="#12519a"/><stop offset="0.880" stop-color="#0f4282"/><stop offset="1.000" stop-color="#0f4282"/></linearGradient></defs>
<polygon points="363.60,143.60 403.80,141.50 408.60,160.20 413.30,176.70 416.00,200.00 422.70,216.50 370.70,203.40" fill="url(#g36)"/>
<defs><linearGradient id="g37" gradientUnits="userSpaceOnUse" x1="358.00" y1="143.00" x2="403.00" y2="138.00"><stop offset="0.000" stop-color="#a8e868"/><stop offset="0.500" stop-color="#e0f048"/><stop offset="1.000" stop-color="#b8ec60"/></linearGradient></defs>
<polygon points="355.40,144.80 363.60,142.50 387.30,136.50 390.80,134.20 400.30,137.70 403.80,140.00 403.80,141.50 363.60,143.60" fill="url(#g37)"/>
<polygon points="378.00,140.00 392.00,136.00 399.00,139.00 385.00,141.20" fill="#eef040"/>
<defs><linearGradient id="g38" gradientUnits="userSpaceOnUse" x1="430.00" y1="177.00" x2="428.00" y2="214.00"><stop offset="0.000" stop-color="#1a60ac"/><stop offset="0.300" stop-color="#15559f"/><stop offset="1.000" stop-color="#0f4486"/></linearGradient></defs>
<polygon points="413.30,176.70 418.00,178.00 439.30,176.70 458.20,185.00 422.70,216.50 416.00,200.00" fill="url(#g38)"/>
<polygon points="458.20,185.00 422.70,216.50 421.00,211.00 452.00,184.00" fill="#0e3c78"/>
<text x="31.50" y="88.50" font-size="3.4" text-anchor="end" fill="#444" transform="rotate(-45 31.5 88.5)">0.0005</text>
<text x="46.00" y="94.00" font-size="3.4" text-anchor="end" fill="#444" transform="rotate(-45 46 94)">0.001</text>
<text x="60.80" y="99.00" font-size="3.4" text-anchor="end" fill="#444" transform="rotate(-45 60.8 99)">0.005</text>
<text x="73.50" y="101.50" font-size="3.4" text-anchor="end" fill="#444" transform="rotate(-45 73.5 101.5)">0.01</text>
<text x="88.00" y="105.00" font-size="3.4" text-anchor="end" fill="#444" transform="rotate(-45 88 105)">0.1</text>
<text x="104.00" y="106.50" font-size="3.4" text-anchor="end" fill="#333" transform="rotate(-45 104 106.5)">Venetoclax</text>
<text x="139.50" y="75.50" font-size="3.4" text-anchor="start" fill="#444">0.01</text>
<text x="137.00" y="81.00" font-size="3.4" text-anchor="start" fill="#444">0.1</text>
<text x="132.00" y="86.50" font-size="3.4" text-anchor="start" fill="#444">0.5</text>
<text x="124.00" y="92.00" font-size="3.4" text-anchor="start" fill="#444">1</text>
<text x="116.50" y="98.80" font-size="3.4" text-anchor="start" fill="#444">2</text>
<text x="108.00" y="107.00" font-size="3.6" text-anchor="start" fill="#333">Ibrutinib</text>
<text x="190.90" y="88.50" font-size="3.4" text-anchor="end" fill="#444" transform="rotate(-45 190.9 88.5)">0.0005</text>
<text x="205.40" y="94.00" font-size="3.4" text-anchor="end" fill="#444" transform="rotate(-45 205.4 94)">0.001</text>
<text x="220.20" y="99.00" font-size="3.4" text-anchor="end" fill="#444" transform="rotate(-45 220.2 99)">0.005</text>
<text x="232.90" y="101.50" font-size="3.4" text-anchor="end" fill="#444" transform="rotate(-45 232.9 101.5)">0.01</text>
<text x="247.40" y="105.00" font-size="3.4" text-anchor="end" fill="#444" transform="rotate(-45 247.4 105)">0.1</text>
<text x="263.40" y="106.50" font-size="3.4" text-anchor="end" fill="#333" transform="rotate(-45 263.4 106.5)">Venetoclax</text>
<text x="298.90" y="75.50" font-size="3.4" text-anchor="start" fill="#444">0.01</text>
<text x="296.40" y="81.00" font-size="3.4" text-anchor="start" fill="#444">0.1</text>
<text x="291.40" y="86.50" font-size="3.4" text-anchor="start" fill="#444">0.5</text>
<text x="283.40" y="92.00" font-size="3.4" text-anchor="start" fill="#444">1</text>
<text x="275.90" y="98.80" font-size="3.4" text-anchor="start" fill="#444">2</text>
<text x="267.40" y="107.00" font-size="3.6" text-anchor="start" fill="#333">Ibrutinib</text>
<text x="347.00" y="87.00" font-size="3.4" text-anchor="end" fill="#444" transform="rotate(-45 347 87)">0.0005</text>
<text x="361.70" y="91.20" font-size="3.4" text-anchor="end" fill="#444" transform="rotate(-45 361.7 91.2)">0.001</text>
<text x="376.40" y="95.40" font-size="3.4" text-anchor="end" fill="#444" transform="rotate(-45 376.4 95.4)">0.005</text>
<text x="391.10" y="99.60" font-size="3.4" text-anchor="end" fill="#444" transform="rotate(-45 391.1 99.6)">0.01</text>
<text x="405.80" y="103.80" font-size="3.4" text-anchor="end" fill="#444" transform="rotate(-45 405.8 103.8)">0.1</text>
<text x="420.50" y="108.00" font-size="3.4" text-anchor="end" fill="#333" transform="rotate(-45 420.5 108)">Venetoclax</text>
<text x="456.00" y="74.50" font-size="3.4" text-anchor="start" fill="#444">0.01</text>
<text x="452.50" y="80.00" font-size="3.4" text-anchor="start" fill="#444">0.1</text>
<text x="448.50" y="86.00" font-size="3.4" text-anchor="start" fill="#444">0.5</text>
<text x="442.50" y="91.00" font-size="3.4" text-anchor="start" fill="#444">1</text>
<text x="434.50" y="98.00" font-size="3.4" text-anchor="start" fill="#444">2</text>
<text x="422.70" y="105.80" font-size="3.6" text-anchor="start" fill="#333">Ibrutinib</text>
<text x="31.50" y="203.50" font-size="3.4" text-anchor="end" fill="#444" transform="rotate(-45 31.5 203.5)">0.0005</text>
<text x="45.50" y="209.00" font-size="3.4" text-anchor="end" fill="#444" transform="rotate(-45 45.5 209)">0.001</text>
<text x="59.50" y="213.00" font-size="3.4" text-anchor="end" fill="#444" transform="rotate(-45 59.5 213)">0.005</text>
<text x="73.50" y="216.80" font-size="3.4" text-anchor="end" fill="#444" transform="rotate(-45 73.5 216.8)">0.01</text>
<text x="88.00" y="219.50" font-size="3.4" text-anchor="end" fill="#444" transform="rotate(-45 88 219.5)">0.1</text>
<text x="102.50" y="222.00" font-size="3.4" text-anchor="end" fill="#333" transform="rotate(-45 102.5 222)">Venetoclax</text>
<text x="140.00" y="190.00" font-size="3.4" text-anchor="start" fill="#444">0.01</text>
<text x="136.60" y="195.50" font-size="3.4" text-anchor="start" fill="#444">0.1</text>
<text x="133.00" y="201.00" font-size="3.4" text-anchor="start" fill="#444">0.5</text>
<text x="126.00" y="206.00" font-size="3.4" text-anchor="start" fill="#444">1</text>
<text x="116.50" y="212.80" font-size="3.4" text-anchor="start" fill="#444">2</text>
<text x="108.30" y="219.60" font-size="3.6" text-anchor="start" fill="#333">Ibrutinib</text>
<text x="108.30" y="227.60" font-size="3.6" text-anchor="start" fill="#333">+ CAD204520 2 µM</text>
<text x="190.80" y="203.50" font-size="3.4" text-anchor="end" fill="#444" transform="rotate(-45 190.8 203.5)">0.0005</text>
<text x="204.80" y="209.00" font-size="3.4" text-anchor="end" fill="#444" transform="rotate(-45 204.8 209)">0.001</text>
<text x="218.80" y="213.00" font-size="3.4" text-anchor="end" fill="#444" transform="rotate(-45 218.8 213)">0.005</text>
<text x="232.80" y="216.80" font-size="3.4" text-anchor="end" fill="#444" transform="rotate(-45 232.8 216.8)">0.01</text>
<text x="247.30" y="219.50" font-size="3.4" text-anchor="end" fill="#444" transform="rotate(-45 247.3 219.5)">0.1</text>
<text x="261.80" y="222.00" font-size="3.4" text-anchor="end" fill="#333" transform="rotate(-45 261.8 222)">Venetoclax</text>
<text x="299.30" y="190.00" font-size="3.4" text-anchor="start" fill="#444">0.01</text>
<text x="295.90" y="195.50" font-size="3.4" text-anchor="start" fill="#444">0.1</text>
<text x="292.30" y="201.00" font-size="3.4" text-anchor="start" fill="#444">0.5</text>
<text x="285.30" y="206.00" font-size="3.4" text-anchor="start" fill="#444">1</text>
<text x="275.80" y="212.80" font-size="3.4" text-anchor="start" fill="#444">2</text>
<text x="267.60" y="219.60" font-size="3.6" text-anchor="start" fill="#333">Ibrutinib</text>
<text x="267.60" y="227.60" font-size="3.6" text-anchor="start" fill="#333">+ CAD204520 2 µM</text>
<text x="350.50" y="201.50" font-size="3.4" text-anchor="end" fill="#444" transform="rotate(-45 350.5 201.5)">0.0005</text>
<text x="364.50" y="207.00" font-size="3.4" text-anchor="end" fill="#444" transform="rotate(-45 364.5 207)">0.001</text>
<text x="378.50" y="211.00" font-size="3.4" text-anchor="end" fill="#444" transform="rotate(-45 378.5 211)">0.005</text>
<text x="392.50" y="214.80" font-size="3.4" text-anchor="end" fill="#444" transform="rotate(-45 392.5 214.8)">0.01</text>
<text x="407.00" y="217.50" font-size="3.4" text-anchor="end" fill="#444" transform="rotate(-45 407 217.5)">0.1</text>
<text x="421.50" y="220.00" font-size="3.4" text-anchor="end" fill="#333" transform="rotate(-45 421.5 220)">Venetoclax</text>
<text x="459.00" y="188.00" font-size="3.4" text-anchor="start" fill="#444">0.01</text>
<text x="455.60" y="193.50" font-size="3.4" text-anchor="start" fill="#444">0.1</text>
<text x="452.00" y="199.00" font-size="3.4" text-anchor="start" fill="#444">0.5</text>
<text x="445.00" y="204.00" font-size="3.4" text-anchor="start" fill="#444">1</text>
<text x="435.50" y="210.80" font-size="3.4" text-anchor="start" fill="#444">2</text>
<text x="427.30" y="217.60" font-size="3.6" text-anchor="start" fill="#333">Ibrutinib</text>
<text x="427.30" y="225.60" font-size="3.6" text-anchor="start" fill="#333">+ CAD204520 2 µM</text>
</svg></body></html>
